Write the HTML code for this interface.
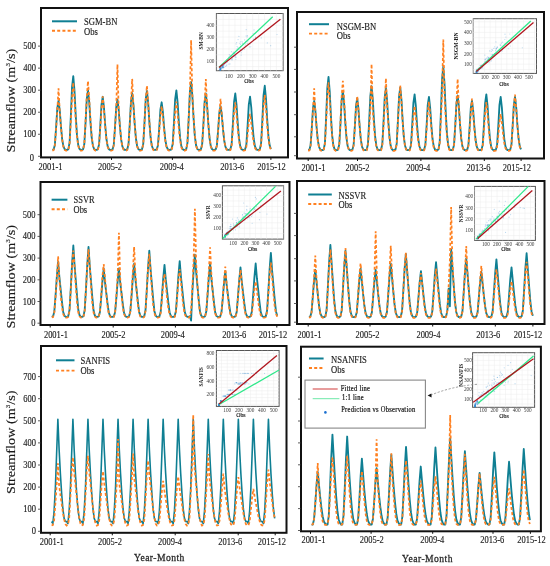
<!DOCTYPE html><html><head><meta charset="utf-8"><style>html,body{margin:0;padding:0;background:#fff;}svg{display:block;will-change:transform;}</style></head><body>
<svg width="550" height="566" viewBox="0 0 550 566" font-family='"Liberation Serif", serif'>
<rect width="550" height="566" fill="#fff"/>
<defs><clipPath id="c0"><rect x="42" y="9" width="245" height="147.4"/></clipPath></defs>
<g clip-path="url(#c0)">
<polyline points="52.4,149.91 53.63,149.42 54.86,144.99 56.08,127.79 57.31,108.13 58.54,100.76 59.77,110.59 60.99,126.81 62.22,139.59 63.45,146.47 64.68,149.17 65.9,149.91 67.13,149.91 68.36,149.17 69.59,142.53 70.81,116.68 72.04,87.15 73.27,76.07 74.5,90.84 75.72,115.21 76.95,134.4 78.18,144.74 79.41,148.8 80.63,149.91 81.86,149.91 83.09,149.31 84.32,143.94 85.54,123.03 86.77,99.14 88,90.18 89.23,102.13 90.45,121.84 91.68,137.37 92.91,145.73 94.14,149.01 95.36,149.91 96.59,149.91 97.82,149.38 99.05,144.6 100.27,126.01 101.5,104.76 102.73,96.79 103.96,107.42 105.18,124.94 106.41,138.75 107.64,146.19 108.87,149.11 110.09,149.91 111.32,149.91 112.55,149.41 113.78,144.88 115,127.3 116.23,107.19 117.46,99.66 118.69,109.71 119.91,126.29 121.14,139.36 122.37,146.39 123.6,149.15 124.82,149.91 126.05,149.91 127.28,149.34 128.51,144.24 129.73,124.42 130.96,101.76 132.19,93.27 133.42,104.59 134.64,123.29 135.87,138.01 137.1,145.94 138.33,149.06 139.55,149.91 140.78,149.91 142.01,149.32 143.24,144 144.46,123.33 145.69,99.7 146.92,90.84 148.15,102.65 149.37,122.15 150.6,137.5 151.83,145.77 153.06,149.02 154.28,149.91 155.51,149.91 156.74,149.43 157.97,145.15 159.19,128.49 160.42,109.44 161.65,102.3 162.88,111.82 164.11,127.53 165.33,139.91 166.56,146.58 167.79,149.19 169.02,149.91 170.24,149.91 171.47,149.31 172.7,143.96 173.93,123.13 175.15,99.33 176.38,90.4 177.61,102.3 178.84,121.94 180.06,137.41 181.29,145.74 182.52,149.02 183.75,149.91 184.97,149.91 186.2,149.23 187.43,143.12 188.66,119.36 189.88,92.21 191.11,82.03 192.34,95.6 193.57,118 194.79,135.65 196.02,145.16 197.25,148.89 198.48,149.91 199.7,149.91 200.93,149.34 202.16,144.27 203.39,124.52 204.61,101.95 205.84,93.49 207.07,104.77 208.3,123.39 209.52,138.06 210.75,145.96 211.98,149.06 213.21,149.91 214.43,149.91 215.66,149.47 216.89,145.54 218.12,130.27 219.34,112.82 220.57,106.27 221.8,115 223.03,129.4 224.25,140.74 225.48,146.85 226.71,149.25 227.94,149.91 229.16,149.91 230.39,149.34 231.62,144.27 232.85,124.52 234.07,101.95 235.3,93.49 236.53,104.77 237.76,123.39 238.98,138.06 240.21,145.96 241.44,149.06 242.67,149.91 243.89,149.91 245.12,149.38 246.35,144.57 247.58,125.91 248.8,104.57 250.03,96.57 251.26,107.24 252.49,124.84 253.71,138.71 254.94,146.17 256.17,149.11 257.4,149.91 258.62,149.91 259.85,149.27 261.08,143.49 262.31,121.05 263.53,95.39 264.76,85.77 265.99,98.6 267.22,119.76 268.44,136.44 269.67,145.42 270.9,148.95" fill="none" stroke="#0f7f93" stroke-width="1.85" stroke-linejoin="round"/>
<polyline points="52.4,150.57 53.63,150.06 54.86,145.43 56.08,128.98 57.31,110.48 58.54,88.42 59.77,112.02 60.99,127.44 62.22,139.78 63.45,146.97 64.68,149.8 65.9,150.57 67.13,150.57 68.36,149.89 69.59,143.76 70.81,121.97 72.04,97.45 73.27,82.47 74.5,99.49 75.72,119.92 76.95,136.27 78.18,145.8 79.41,149.55 80.63,150.57 81.86,150.57 83.09,149.88 84.32,143.63 85.54,121.41 86.77,96.42 88,81.14 89.23,98.5 90.45,119.33 91.68,135.99 92.91,145.71 94.14,149.53 95.36,150.57 96.59,150.57 97.82,150.03 99.05,145.15 100.27,127.8 101.5,108.28 102.73,96.35 103.96,109.91 105.18,126.17 106.41,139.18 107.64,146.77 108.87,149.76 110.09,150.57 111.32,150.57 112.55,150.03 113.78,145.17 115,127.91 116.23,108.49 117.46,64.39 118.69,110.1 119.91,126.29 121.14,139.24 122.37,146.79 123.6,149.76 124.82,150.57 126.05,150.57 127.28,149.97 128.51,144.59 129.73,125.45 130.96,103.91 132.19,78.72 133.42,105.71 134.64,123.65 135.87,138.01 137.1,146.38 138.33,149.67 139.55,150.57 140.78,150.57 142.01,149.92 143.24,144.09 144.46,123.35 145.69,100.03 146.92,85.77 148.15,101.97 149.37,121.41 150.6,136.96 151.83,146.03 153.06,149.6 154.28,150.57 155.51,150.57 156.74,150.12 157.97,146.12 159.19,131.87 160.42,115.84 161.65,106.05 162.88,117.18 164.11,130.54 165.33,141.22 166.56,147.45 167.79,149.9 169.02,150.57 170.24,150.57 171.47,150.08 172.7,145.68 173.93,130.02 175.15,112.41 176.38,101.64 177.61,113.87 178.84,128.55 180.06,140.29 181.29,147.14 182.52,149.84 183.75,150.57 184.97,150.57 186.2,149.83 187.43,143.14 188.66,119.37 189.88,92.64 191.11,40.15 192.34,94.86 193.57,117.15 194.79,134.97 196.02,145.37 197.25,149.46 198.48,150.57 199.7,150.57 200.93,149.97 202.16,144.57 203.39,125.35 204.61,103.74 205.84,79.16 207.07,105.54 208.3,123.55 209.52,137.96 210.75,146.37 211.98,149.67 213.21,150.57 214.43,150.57 215.66,150.09 216.89,145.78 218.12,130.46 219.34,113.23 220.57,98.78 221.8,114.67 223.03,129.03 224.25,140.52 225.48,147.22 226.71,149.85 227.94,150.57 229.16,150.57 230.39,150.09 231.62,145.74 232.85,130.3 234.07,112.92 235.3,102.3 236.53,114.37 237.76,128.85 238.98,140.43 240.21,147.19 241.44,149.85 242.67,150.57 243.89,150.57 245.12,150.2 246.35,146.91 247.58,135.2 248.8,122.03 250.03,113.98 251.26,123.13 252.49,134.11 253.71,142.89 254.94,148.01 256.17,150.02 257.4,150.57 258.62,150.57 259.85,150.01 261.08,144.99 262.31,127.15 263.53,107.08 264.76,94.81 265.99,108.75 267.22,125.48 268.44,138.86 269.67,146.67 270.9,149.73" fill="none" stroke="#ff8020" stroke-width="1.75" stroke-dasharray="3 2.2"/>
</g>
<rect x="41" y="8" width="247" height="149.4" fill="none" stroke="#111" stroke-width="2"/>
<line x1="38" y1="156.3" x2="41" y2="156.3" stroke="#333" stroke-width="0.8"/>
<text transform="translate(33.9 160.6) scale(1 1.13)" font-size="8.5" text-anchor="end" fill="#1a1a1a" stroke="#1a1a1a" stroke-width="0.12">0</text>
<line x1="38" y1="134.26" x2="41" y2="134.26" stroke="#333" stroke-width="0.8"/>
<text transform="translate(36 137.26) scale(1 1.13)" font-size="8.5" text-anchor="end" fill="#1a1a1a" stroke="#1a1a1a" stroke-width="0.12">100</text>
<line x1="38" y1="112.22" x2="41" y2="112.22" stroke="#333" stroke-width="0.8"/>
<text transform="translate(36 115.22) scale(1 1.13)" font-size="8.5" text-anchor="end" fill="#1a1a1a" stroke="#1a1a1a" stroke-width="0.12">200</text>
<line x1="38" y1="90.18" x2="41" y2="90.18" stroke="#333" stroke-width="0.8"/>
<text transform="translate(36 93.18) scale(1 1.13)" font-size="8.5" text-anchor="end" fill="#1a1a1a" stroke="#1a1a1a" stroke-width="0.12">300</text>
<line x1="38" y1="68.14" x2="41" y2="68.14" stroke="#333" stroke-width="0.8"/>
<text transform="translate(36 71.14) scale(1 1.13)" font-size="8.5" text-anchor="end" fill="#1a1a1a" stroke="#1a1a1a" stroke-width="0.12">400</text>
<line x1="38" y1="46.1" x2="41" y2="46.1" stroke="#333" stroke-width="0.8"/>
<text transform="translate(36 49.1) scale(1 1.13)" font-size="8.5" text-anchor="end" fill="#1a1a1a" stroke="#1a1a1a" stroke-width="0.12">500</text>
<line x1="50.5" y1="157.4" x2="50.5" y2="159.9" stroke="#111" stroke-width="1"/>
<text transform="translate(50.5 169.8) scale(1 1.13)" font-size="8.5" text-anchor="middle" fill="#1a1a1a" stroke="#1a1a1a" stroke-width="0.12">2001-1</text>
<line x1="111.5" y1="157.4" x2="111.5" y2="159.9" stroke="#111" stroke-width="1"/>
<text transform="translate(110 169.8) scale(1 1.13)" font-size="8.5" text-anchor="middle" fill="#1a1a1a" stroke="#1a1a1a" stroke-width="0.12">2005-2</text>
<line x1="172.4" y1="157.4" x2="172.4" y2="159.9" stroke="#111" stroke-width="1"/>
<text transform="translate(171.7 169.8) scale(1 1.13)" font-size="8.5" text-anchor="middle" fill="#1a1a1a" stroke="#1a1a1a" stroke-width="0.12">2009-4</text>
<line x1="234" y1="157.4" x2="234" y2="159.9" stroke="#111" stroke-width="1"/>
<text transform="translate(232.3 169.8) scale(1 1.13)" font-size="8.5" text-anchor="middle" fill="#1a1a1a" stroke="#1a1a1a" stroke-width="0.12">2013-6</text>
<line x1="270.9" y1="157.4" x2="270.9" y2="159.9" stroke="#111" stroke-width="1"/>
<text transform="translate(271.5 169.8) scale(1 1.13)" font-size="8.5" text-anchor="middle" fill="#1a1a1a" stroke="#1a1a1a" stroke-width="0.12">2015-12</text>
<line x1="52" y1="21.3" x2="77" y2="21.3" stroke="#0f7f93" stroke-width="2"/>
<line x1="52" y1="30.8" x2="77" y2="30.8" stroke="#ff8020" stroke-width="1.9" stroke-dasharray="3 2.2"/>
<text transform="translate(84 24.9) scale(1 1.13)" font-size="8.6" fill="#1a1a1a" stroke="#1a1a1a" stroke-width="0.12">SGM-BN</text>
<text transform="translate(84 34.9) scale(1 1.13)" font-size="8.6" fill="#1a1a1a" stroke="#1a1a1a" stroke-width="0.12">Obs</text>
<rect x="216.4" y="13.5" width="66.7" height="57.2" fill="#fff" stroke="#555" stroke-width="1"/>
<path d="M217.15 13.5V70.7M223.08 13.5V70.7M216.4 66.6H283.1M229 13.5V70.7M216.4 60.7H283.1M234.93 13.5V70.7M216.4 54.8H283.1M240.85 13.5V70.7M216.4 48.9H283.1M246.78 13.5V70.7M216.4 43H283.1M252.7 13.5V70.7M216.4 37.1H283.1M258.62 13.5V70.7M216.4 31.2H283.1M264.55 13.5V70.7M216.4 25.3H283.1M270.48 13.5V70.7M216.4 19.4H283.1M276.4 13.5V70.7M282.32 13.5V70.7" stroke="#ececec" stroke-width="0.5" fill="none"/>
<defs><clipPath id="i0"><rect x="216.4" y="13.5" width="66.7" height="57.2"/></clipPath></defs>
<g clip-path="url(#i0)" fill="#3a8fd0" fill-opacity="0.33">
<circle cx="220.25" cy="68.37" r="0.6"/>
<circle cx="220.4" cy="69.15" r="0.6"/>
<circle cx="223.33" cy="67.11" r="0.6"/>
<circle cx="232.69" cy="54.84" r="0.6"/>
<circle cx="240.4" cy="44.52" r="0.6"/>
<circle cx="255.7" cy="37.41" r="0.6"/>
<circle cx="237.09" cy="46.5" r="0.6"/>
<circle cx="235.85" cy="59.23" r="0.6"/>
<circle cx="226.19" cy="65.67" r="0.6"/>
<circle cx="222.06" cy="67.64" r="0.6"/>
<circle cx="220.67" cy="68.48" r="0.6"/>
<circle cx="220.36" cy="68.76" r="0.6"/>
<circle cx="220.13" cy="69.27" r="0.6"/>
<circle cx="220.56" cy="68.3" r="0.6"/>
<circle cx="223.35" cy="67.24" r="0.6"/>
<circle cx="233.72" cy="53.43" r="0.6"/>
<circle cx="246.15" cy="35.94" r="0.6"/>
<circle cx="254.04" cy="29.93" r="0.6"/>
<circle cx="250.01" cy="43.94" r="0.6"/>
<circle cx="235.64" cy="55.38" r="0.6"/>
<circle cx="227.61" cy="60.63" r="0.6"/>
<circle cx="222.76" cy="67.9" r="0.6"/>
<circle cx="220.67" cy="68.78" r="0.6"/>
<circle cx="220.33" cy="68.7" r="0.6"/>
<circle cx="220.32" cy="69.44" r="0.6"/>
<circle cx="220.7" cy="68.57" r="0.6"/>
<circle cx="223.96" cy="67.13" r="0.6"/>
<circle cx="236.13" cy="57.15" r="0.6"/>
<circle cx="244.65" cy="39.92" r="0.6"/>
<circle cx="261.22" cy="37.92" r="0.6"/>
<circle cx="247.31" cy="40.79" r="0.6"/>
<circle cx="235.35" cy="57.09" r="0.6"/>
<circle cx="228.88" cy="64.06" r="0.6"/>
<circle cx="222.77" cy="66.08" r="0.6"/>
<circle cx="220.85" cy="68.05" r="0.6"/>
<circle cx="220.2" cy="69.27" r="0.6"/>
<circle cx="220.16" cy="68.1" r="0.6"/>
<circle cx="220.54" cy="69.32" r="0.6"/>
<circle cx="222.9" cy="66.4" r="0.6"/>
<circle cx="233.18" cy="56.59" r="0.6"/>
<circle cx="237.58" cy="50.02" r="0.6"/>
<circle cx="250.74" cy="46.83" r="0.6"/>
<circle cx="244.34" cy="47.23" r="0.6"/>
<circle cx="234.44" cy="55.81" r="0.6"/>
<circle cx="227.23" cy="62.2" r="0.6"/>
<circle cx="222.31" cy="67.1" r="0.6"/>
<circle cx="220.57" cy="68.23" r="0.6"/>
<circle cx="220.13" cy="68.42" r="0.6"/>
<circle cx="220.12" cy="68.35" r="0.6"/>
<circle cx="220.77" cy="67.94" r="0.6"/>
<circle cx="222.74" cy="65.63" r="0.6"/>
<circle cx="234.55" cy="53.78" r="0.6"/>
<circle cx="242.06" cy="41.51" r="0.6"/>
<circle cx="270.67" cy="45.68" r="0.6"/>
<circle cx="244.28" cy="49.16" r="0.6"/>
<circle cx="232.95" cy="54.29" r="0.6"/>
<circle cx="226.91" cy="64.94" r="0.6"/>
<circle cx="222.19" cy="67.14" r="0.6"/>
<circle cx="220.59" cy="67.44" r="0.6"/>
<circle cx="220.28" cy="69.74" r="0.6"/>
<circle cx="220.25" cy="70.5" r="0.6"/>
<circle cx="220.56" cy="68.88" r="0.6"/>
<circle cx="223.91" cy="65.64" r="0.6"/>
<circle cx="234.78" cy="53.37" r="0.6"/>
<circle cx="245.51" cy="41.65" r="0.6"/>
<circle cx="267.3" cy="42.9" r="0.6"/>
<circle cx="245.24" cy="45.75" r="0.6"/>
<circle cx="232.18" cy="54.7" r="0.6"/>
<circle cx="227.34" cy="60.18" r="0.6"/>
<circle cx="222.96" cy="68.01" r="0.6"/>
<circle cx="220.73" cy="69.24" r="0.6"/>
<circle cx="220.23" cy="69.96" r="0.6"/>
<circle cx="220.31" cy="68.24" r="0.6"/>
<circle cx="220.57" cy="69.18" r="0.6"/>
<circle cx="224.05" cy="64.42" r="0.6"/>
<circle cx="235.21" cy="55.95" r="0.6"/>
<circle cx="247.11" cy="36.91" r="0.6"/>
<circle cx="253.85" cy="38.94" r="0.6"/>
<circle cx="247.3" cy="43.32" r="0.6"/>
<circle cx="236.86" cy="49.9" r="0.6"/>
<circle cx="226.93" cy="61.73" r="0.6"/>
<circle cx="222.8" cy="67.62" r="0.6"/>
<circle cx="220.54" cy="67.77" r="0.6"/>
<circle cx="220.2" cy="69.35" r="0.6"/>
<circle cx="220.22" cy="68.67" r="0.6"/>
<circle cx="220.53" cy="69.71" r="0.6"/>
<circle cx="222.89" cy="65.43" r="0.6"/>
<circle cx="230.02" cy="55.38" r="0.6"/>
<circle cx="241.17" cy="55.07" r="0.6"/>
<circle cx="245.26" cy="44.04" r="0.6"/>
<circle cx="238.05" cy="47.71" r="0.6"/>
<circle cx="233.38" cy="56.42" r="0.6"/>
<circle cx="225.7" cy="63.33" r="0.6"/>
<circle cx="221.79" cy="66.97" r="0.6"/>
<circle cx="220.55" cy="69" r="0.6"/>
<circle cx="220.19" cy="69.52" r="0.6"/>
<circle cx="220.22" cy="69.9" r="0.6"/>
<circle cx="220.47" cy="68.63" r="0.6"/>
<circle cx="222.94" cy="67.39" r="0.6"/>
<circle cx="230.89" cy="55.92" r="0.6"/>
<circle cx="240.43" cy="46.3" r="0.6"/>
<circle cx="247.97" cy="40.93" r="0.6"/>
<circle cx="238.07" cy="39.61" r="0.6"/>
<circle cx="231.43" cy="51.7" r="0.6"/>
<circle cx="225.82" cy="62.81" r="0.6"/>
<circle cx="222.24" cy="65.84" r="0.6"/>
<circle cx="220.68" cy="69.61" r="0.6"/>
<circle cx="220.32" cy="69.33" r="0.6"/>
<circle cx="220.18" cy="69.65" r="0.6"/>
<circle cx="220.51" cy="69.33" r="0.6"/>
<circle cx="223.3" cy="65.74" r="0.6"/>
<circle cx="237.29" cy="48.77" r="0.6"/>
<circle cx="246.2" cy="29.64" r="0.6"/>
<circle cx="277.02" cy="34.49" r="0.6"/>
<circle cx="253.6" cy="39.52" r="0.6"/>
<circle cx="241.35" cy="52.74" r="0.6"/>
<circle cx="229.95" cy="63.92" r="0.6"/>
<circle cx="222.91" cy="65.98" r="0.6"/>
<circle cx="220.72" cy="67.9" r="0.6"/>
<circle cx="220.22" cy="69.86" r="0.6"/>
<circle cx="220.16" cy="71.22" r="0.6"/>
<circle cx="220.54" cy="68.35" r="0.6"/>
<circle cx="223.62" cy="67.44" r="0.6"/>
<circle cx="232.37" cy="58.63" r="0.6"/>
<circle cx="242.9" cy="43.23" r="0.6"/>
<circle cx="255.47" cy="37.09" r="0.6"/>
<circle cx="242.44" cy="43.12" r="0.6"/>
<circle cx="233.54" cy="56.01" r="0.6"/>
<circle cx="226.88" cy="61.4" r="0.6"/>
<circle cx="222.57" cy="67.19" r="0.6"/>
<circle cx="220.68" cy="70.05" r="0.6"/>
<circle cx="220.34" cy="68.56" r="0.6"/>
<circle cx="220.19" cy="69.59" r="0.6"/>
<circle cx="220.6" cy="69.14" r="0.6"/>
<circle cx="222.69" cy="66.6" r="0.6"/>
<circle cx="232.04" cy="59.9" r="0.6"/>
<circle cx="240.3" cy="49.29" r="0.6"/>
<circle cx="249.3" cy="46.93" r="0.6"/>
<circle cx="238.78" cy="49.43" r="0.6"/>
<circle cx="231.73" cy="59.51" r="0.6"/>
<circle cx="225.65" cy="66.52" r="0.6"/>
<circle cx="221.97" cy="67.12" r="0.6"/>
<circle cx="220.73" cy="68.03" r="0.6"/>
<circle cx="220.32" cy="69.31" r="0.6"/>
<circle cx="220.2" cy="70.12" r="0.6"/>
<circle cx="220.55" cy="69.66" r="0.6"/>
<circle cx="222.85" cy="65.58" r="0.6"/>
<circle cx="231.21" cy="56.44" r="0.6"/>
<circle cx="240.78" cy="46.71" r="0.6"/>
<circle cx="247.46" cy="35.66" r="0.6"/>
<circle cx="241.9" cy="50.62" r="0.6"/>
<circle cx="229.34" cy="56.77" r="0.6"/>
<circle cx="226.13" cy="62" r="0.6"/>
<circle cx="222.04" cy="65.68" r="0.6"/>
<circle cx="220.62" cy="69.76" r="0.6"/>
<circle cx="220.21" cy="70.87" r="0.6"/>
<circle cx="220.28" cy="68.13" r="0.6"/>
<circle cx="220.49" cy="68.51" r="0.6"/>
<circle cx="222.22" cy="66.44" r="0.6"/>
<circle cx="229.3" cy="54.51" r="0.6"/>
<circle cx="236.64" cy="42.51" r="0.6"/>
<circle cx="238.89" cy="36.45" r="0.6"/>
<circle cx="236.07" cy="43.89" r="0.6"/>
<circle cx="228.6" cy="57.34" r="0.6"/>
<circle cx="224.53" cy="64.06" r="0.6"/>
<circle cx="221.52" cy="68.33" r="0.6"/>
<circle cx="220.51" cy="67.98" r="0.6"/>
<circle cx="220.23" cy="68.14" r="0.6"/>
<circle cx="220.19" cy="69" r="0.6"/>
<circle cx="220.59" cy="69" r="0.6"/>
<circle cx="223.53" cy="65.72" r="0.6"/>
<circle cx="233.27" cy="52.04" r="0.6"/>
<circle cx="240.32" cy="41.84" r="0.6"/>
<circle cx="253.11" cy="33.28" r="0.6"/>
<circle cx="239.77" cy="43.24" r="0.6"/>
<circle cx="233.16" cy="53.11" r="0.6"/>
<circle cx="226.75" cy="59.86" r="0.6"/>
<circle cx="221.96" cy="66.8" r="0.6"/>
<circle cx="220.82" cy="68.69" r="0.6"/>
<circle cx="220.22" cy="69.36" r="0.6"/>
</g>
<line x1="219.1" y1="67.1" x2="272.7" y2="16.7" stroke="#2ee88a" stroke-width="1.3"/>
<line x1="219" y1="67.6" x2="280.4" y2="19.3" stroke="#b0161e" stroke-width="1.3"/>
<text transform="translate(214.5 62.6) scale(1 1.13)" font-size="5.3" text-anchor="end" fill="#3a3a3a">100</text>
<text transform="translate(214.5 50.8) scale(1 1.13)" font-size="5.3" text-anchor="end" fill="#3a3a3a">200</text>
<text transform="translate(214.5 39) scale(1 1.13)" font-size="5.3" text-anchor="end" fill="#3a3a3a">300</text>
<text transform="translate(214.5 27.2) scale(1 1.13)" font-size="5.3" text-anchor="end" fill="#3a3a3a">400</text>
<text transform="translate(229 78.1) scale(1 1.13)" font-size="5.3" text-anchor="middle" fill="#3a3a3a">100</text>
<text transform="translate(240.85 78.1) scale(1 1.13)" font-size="5.3" text-anchor="middle" fill="#3a3a3a">200</text>
<text transform="translate(252.7 78.1) scale(1 1.13)" font-size="5.3" text-anchor="middle" fill="#3a3a3a">300</text>
<text transform="translate(264.55 78.1) scale(1 1.13)" font-size="5.3" text-anchor="middle" fill="#3a3a3a">400</text>
<text transform="translate(276.4 78.1) scale(1 1.13)" font-size="5.3" text-anchor="middle" fill="#3a3a3a">500</text>
<text transform="translate(249 83.3) scale(1 1.13)" font-size="5.8" text-anchor="middle" fill="#1a1a1a" stroke="#1a1a1a" stroke-width="0.15">Obs</text>
<text transform="translate(202.7 40.9) rotate(-90)" font-size="5.4" font-weight="bold" text-anchor="middle" fill="#222">SM-BN</text>
<defs><clipPath id="c1"><rect x="298" y="13" width="245" height="144.5"/></clipPath></defs>
<g clip-path="url(#c1)">
<polyline points="308.2,150.16 309.4,149.67 310.59,145.23 311.79,127.98 312.98,108.27 314.18,100.88 315.37,110.73 316.57,127 317.76,139.81 318.96,146.71 320.16,149.42 321.35,150.16 322.55,150.16 323.74,149.43 324.94,142.84 326.13,117.19 327.33,87.89 328.52,76.9 329.72,91.55 330.91,115.73 332.11,134.78 333.31,145.03 334.5,149.06 335.7,150.16 336.89,150.16 338.09,149.57 339.28,144.26 340.48,123.59 341.67,99.97 342.87,91.11 344.07,102.92 345.26,122.41 346.46,137.76 347.65,146.03 348.85,149.28 350.04,150.16 351.24,150.16 352.43,149.64 353.63,144.97 354.82,126.79 356.02,106.01 357.22,98.21 358.41,108.6 359.61,125.75 360.8,139.25 362,146.53 363.19,149.38 364.39,150.16 365.58,150.16 366.78,149.52 367.98,143.77 369.17,121.39 370.37,95.82 371.56,86.23 372.76,99.01 373.95,120.11 375.15,136.74 376.34,145.69 377.54,149.2 378.73,150.16 379.93,150.16 381.13,149.54 382.32,143.95 383.52,122.19 384.71,97.33 385.91,88 387.1,100.43 388.3,120.95 389.49,137.11 390.69,145.81 391.89,149.23 393.08,150.16 394.28,150.16 395.47,149.53 396.67,143.88 397.86,121.89 399.06,96.76 400.25,87.34 401.45,99.9 402.64,120.63 403.84,136.97 405.04,145.76 406.23,149.22 407.43,150.16 408.62,150.16 409.82,149.6 411.01,144.59 412.21,125.09 413.4,102.8 414.6,94.44 415.8,105.58 416.99,123.97 418.19,138.46 419.38,146.26 420.58,149.33 421.77,150.16 422.97,150.16 424.16,149.63 425.36,144.83 426.56,126.19 427.75,104.87 428.95,96.88 430.14,107.54 431.34,125.12 432.53,138.97 433.73,146.43 434.92,149.36 436.12,150.16 437.31,150.16 438.51,149.33 439.71,141.79 440.9,112.5 442.1,79.02 443.29,66.47 444.49,83.21 445.68,110.83 446.88,132.59 448.07,144.3 449.27,148.91 450.47,150.16 451.66,150.16 452.86,149.62 454.05,144.7 455.25,125.59 456.44,103.74 457.64,95.55 458.83,106.47 460.03,124.49 461.22,138.69 462.42,146.34 463.62,149.34 464.81,150.16 466.01,150.16 467.2,149.67 468.4,145.21 469.59,127.88 470.79,108.08 471.98,100.66 473.18,110.56 474.38,126.89 475.57,139.77 476.77,146.7 477.96,149.42 479.16,150.16 480.35,150.16 481.55,149.6 482.74,144.59 483.94,125.09 485.13,102.8 486.33,94.44 487.53,105.58 488.72,123.97 489.92,138.46 491.11,146.26 492.31,149.33 493.5,150.16 494.7,150.16 495.89,149.63 497.09,144.83 498.29,126.19 499.48,104.87 500.68,96.88 501.87,107.54 503.07,125.12 504.26,138.97 505.46,146.43 506.65,149.36 507.85,150.16 509.04,150.16 510.24,149.63 511.44,144.83 512.63,126.19 513.83,104.87 515.02,96.88 516.22,107.54 517.41,125.12 518.61,138.97 519.8,146.43 521,149.36" fill="none" stroke="#0f7f93" stroke-width="1.85" stroke-linejoin="round"/>
<polyline points="308.2,150.83 309.4,150.31 310.59,145.65 311.79,129.08 312.98,110.45 314.18,88.22 315.37,112 316.57,127.53 317.76,139.96 318.96,147.2 320.16,150.05 321.35,150.83 322.55,150.83 323.74,150.14 324.94,143.97 326.13,122.02 327.33,97.32 328.52,82.23 329.72,99.38 330.91,119.96 332.11,136.42 333.31,146.03 334.5,149.8 335.7,150.83 336.89,150.83 338.09,150.13 339.28,143.83 340.48,121.46 341.67,96.28 342.87,80.9 344.07,98.38 345.26,119.36 346.46,136.14 347.65,145.93 348.85,149.78 350.04,150.83 351.24,150.83 352.43,150.28 353.63,145.37 354.82,127.89 356.02,108.23 357.22,96.22 358.41,109.87 359.61,126.25 360.8,139.36 362,147.01 363.19,150.01 364.39,150.83 365.58,150.83 366.78,150.28 367.98,145.39 369.17,128 370.37,108.44 371.56,64.03 372.76,110.07 373.95,126.37 375.15,139.42 376.34,147.02 377.54,150.01 378.73,150.83 379.93,150.83 381.13,150.23 382.32,144.8 383.52,125.52 384.71,103.83 385.91,78.46 387.1,105.64 388.3,123.72 389.49,138.18 390.69,146.61 391.89,149.92 393.08,150.83 394.28,150.83 395.47,150.18 396.67,144.3 397.86,123.42 399.06,99.92 400.25,85.56 401.45,101.88 402.64,121.46 403.84,137.12 405.04,146.26 406.23,149.85 407.43,150.83 408.62,150.83 409.82,150.38 411.01,146.34 412.21,131.99 413.4,115.85 414.6,105.98 415.8,117.19 416.99,130.65 418.19,141.41 419.38,147.69 420.58,150.16 421.77,150.83 422.97,150.83 424.16,150.34 425.36,145.9 426.56,130.13 427.75,112.39 428.95,101.54 430.14,113.86 431.34,128.65 432.53,140.48 433.73,147.38 434.92,150.09 436.12,150.83 437.31,150.83 438.51,150.08 439.71,143.35 440.9,119.41 442.1,92.47 443.29,39.61 444.49,94.72 445.68,117.16 446.88,135.12 448.07,145.59 449.27,149.71 450.47,150.83 451.66,150.83 452.86,150.22 454.05,144.78 455.25,125.43 456.44,103.66 457.64,78.9 458.83,105.47 460.03,123.62 461.22,138.13 462.42,146.59 463.62,149.92 464.81,150.83 466.01,150.83 467.2,150.35 468.4,146.01 469.59,130.58 470.79,113.22 471.98,98.66 473.18,114.66 474.38,129.13 475.57,140.7 476.77,147.45 477.96,150.1 479.16,150.83 480.35,150.83 481.55,150.34 482.74,145.97 483.94,130.41 485.13,112.91 486.33,102.21 487.53,114.36 488.72,128.95 489.92,140.62 491.11,147.42 492.31,150.1 493.5,150.83 494.7,150.83 495.89,150.46 497.09,147.14 498.29,135.35 499.48,122.08 500.68,113.98 501.87,123.19 503.07,134.24 504.26,143.09 505.46,148.25 506.65,150.28 507.85,150.83 509.04,150.83 510.24,150.27 511.44,145.21 512.63,127.24 513.83,107.02 515.02,94.66 516.22,108.7 517.41,125.55 518.61,139.03 519.8,146.9 521,149.99" fill="none" stroke="#ff8020" stroke-width="1.75" stroke-dasharray="3 2.2"/>
</g>
<rect x="297" y="12" width="247" height="146.5" fill="none" stroke="#111" stroke-width="2"/>
<line x1="294" y1="155.7" x2="297" y2="155.7" stroke="#333" stroke-width="0.8"/>
<line x1="294" y1="136.8" x2="297" y2="136.8" stroke="#333" stroke-width="0.8"/>
<line x1="294" y1="114.7" x2="297" y2="114.7" stroke="#333" stroke-width="0.8"/>
<line x1="294" y1="92" x2="297" y2="92" stroke="#333" stroke-width="0.8"/>
<line x1="294" y1="69.4" x2="297" y2="69.4" stroke="#333" stroke-width="0.8"/>
<line x1="294" y1="47.2" x2="297" y2="47.2" stroke="#333" stroke-width="0.8"/>
<line x1="308.2" y1="158.5" x2="308.2" y2="161" stroke="#111" stroke-width="1"/>
<text transform="translate(313.5 171.3) scale(1 1.13)" font-size="8.5" text-anchor="middle" fill="#1a1a1a" stroke="#1a1a1a" stroke-width="0.12">2001-1</text>
<line x1="357.5" y1="158.5" x2="357.5" y2="161" stroke="#111" stroke-width="1"/>
<text transform="translate(357.5 171.3) scale(1 1.13)" font-size="8.5" text-anchor="middle" fill="#1a1a1a" stroke="#1a1a1a" stroke-width="0.12">2005-2</text>
<line x1="420.9" y1="158.5" x2="420.9" y2="161" stroke="#111" stroke-width="1"/>
<text transform="translate(418.2 171.3) scale(1 1.13)" font-size="8.5" text-anchor="middle" fill="#1a1a1a" stroke="#1a1a1a" stroke-width="0.12">2009-4</text>
<line x1="484.3" y1="158.5" x2="484.3" y2="161" stroke="#111" stroke-width="1"/>
<text transform="translate(478.5 171.3) scale(1 1.13)" font-size="8.5" text-anchor="middle" fill="#1a1a1a" stroke="#1a1a1a" stroke-width="0.12">2013-6</text>
<line x1="521.1" y1="158.5" x2="521.1" y2="161" stroke="#111" stroke-width="1"/>
<text transform="translate(516.8 171.3) scale(1 1.13)" font-size="8.5" text-anchor="middle" fill="#1a1a1a" stroke="#1a1a1a" stroke-width="0.12">2015-12</text>
<line x1="309" y1="24.2" x2="329" y2="24.2" stroke="#0f7f93" stroke-width="2"/>
<line x1="309" y1="33.6" x2="329" y2="33.6" stroke="#ff8020" stroke-width="1.9" stroke-dasharray="3 2.2"/>
<text transform="translate(336.7 30) scale(1 1.13)" font-size="8.6" fill="#1a1a1a" stroke="#1a1a1a" stroke-width="0.12">NSGM-BN</text>
<text transform="translate(336.7 39.4) scale(1 1.13)" font-size="8.6" fill="#1a1a1a" stroke="#1a1a1a" stroke-width="0.12">Obs</text>
<rect x="473.3" y="18.7" width="63.2" height="54.7" fill="#fff" stroke="#555" stroke-width="1"/>
<path d="M473.5 18.7V73.4M479.05 18.7V73.4M473.3 69.5H536.5M484.6 18.7V73.4M473.3 64.2H536.5M490.15 18.7V73.4M473.3 58.9H536.5M495.7 18.7V73.4M473.3 53.6H536.5M501.25 18.7V73.4M473.3 48.3H536.5M506.8 18.7V73.4M473.3 43H536.5M512.35 18.7V73.4M473.3 37.7H536.5M517.9 18.7V73.4M473.3 32.4H536.5M523.45 18.7V73.4M473.3 27.1H536.5M529 18.7V73.4M473.3 21.8H536.5M534.55 18.7V73.4" stroke="#ececec" stroke-width="0.5" fill="none"/>
<defs><clipPath id="i1"><rect x="473.3" y="18.7" width="63.2" height="54.7"/></clipPath></defs>
<g clip-path="url(#i1)" fill="#3a8fd0" fill-opacity="0.33">
<circle cx="476.53" cy="72" r="0.6"/>
<circle cx="476.67" cy="72.48" r="0.6"/>
<circle cx="478.85" cy="68.87" r="0.6"/>
<circle cx="490.24" cy="58.67" r="0.6"/>
<circle cx="499.61" cy="50.06" r="0.6"/>
<circle cx="510.37" cy="46.01" r="0.6"/>
<circle cx="494.67" cy="53.65" r="0.6"/>
<circle cx="488.48" cy="60.6" r="0.6"/>
<circle cx="481.44" cy="65.01" r="0.6"/>
<circle cx="478.03" cy="70.03" r="0.6"/>
<circle cx="476.64" cy="71.03" r="0.6"/>
<circle cx="476.39" cy="70.92" r="0.6"/>
<circle cx="476.49" cy="71.96" r="0.6"/>
<circle cx="476.74" cy="70.52" r="0.6"/>
<circle cx="479.88" cy="68.01" r="0.6"/>
<circle cx="492.65" cy="54.75" r="0.6"/>
<circle cx="501.35" cy="43.07" r="0.6"/>
<circle cx="510.75" cy="42.05" r="0.6"/>
<circle cx="500.66" cy="45.19" r="0.6"/>
<circle cx="491.85" cy="57.97" r="0.6"/>
<circle cx="485.1" cy="63.36" r="0.6"/>
<circle cx="478.66" cy="69.39" r="0.6"/>
<circle cx="476.98" cy="72.34" r="0.6"/>
<circle cx="476.42" cy="71.66" r="0.6"/>
<circle cx="476.44" cy="72.68" r="0.6"/>
<circle cx="476.7" cy="71.28" r="0.6"/>
<circle cx="479.8" cy="68.35" r="0.6"/>
<circle cx="490.37" cy="59.44" r="0.6"/>
<circle cx="502.72" cy="48.19" r="0.6"/>
<circle cx="515.87" cy="35.85" r="0.6"/>
<circle cx="508.38" cy="48.74" r="0.6"/>
<circle cx="491.28" cy="54.91" r="0.6"/>
<circle cx="483.82" cy="64.29" r="0.6"/>
<circle cx="478.38" cy="70.63" r="0.6"/>
<circle cx="476.94" cy="71.3" r="0.6"/>
<circle cx="476.48" cy="71.94" r="0.6"/>
<circle cx="476.31" cy="72.11" r="0.6"/>
<circle cx="476.8" cy="71.41" r="0.6"/>
<circle cx="479.34" cy="69.31" r="0.6"/>
<circle cx="488.13" cy="59.89" r="0.6"/>
<circle cx="496.05" cy="48.48" r="0.6"/>
<circle cx="500.07" cy="44.95" r="0.6"/>
<circle cx="495.47" cy="53.35" r="0.6"/>
<circle cx="489.84" cy="61.14" r="0.6"/>
<circle cx="482.07" cy="66.11" r="0.6"/>
<circle cx="478.41" cy="70.87" r="0.6"/>
<circle cx="477.12" cy="71.19" r="0.6"/>
<circle cx="476.31" cy="71.66" r="0.6"/>
<circle cx="476.35" cy="72.21" r="0.6"/>
<circle cx="476.55" cy="71.68" r="0.6"/>
<circle cx="479.43" cy="67.74" r="0.6"/>
<circle cx="488.09" cy="57.82" r="0.6"/>
<circle cx="497.5" cy="47.35" r="0.6"/>
<circle cx="522.34" cy="47.75" r="0.6"/>
<circle cx="494.68" cy="46.84" r="0.6"/>
<circle cx="487.49" cy="61.9" r="0.6"/>
<circle cx="481.94" cy="65.73" r="0.6"/>
<circle cx="478.48" cy="70.01" r="0.6"/>
<circle cx="476.86" cy="70.1" r="0.6"/>
<circle cx="476.42" cy="71.55" r="0.6"/>
<circle cx="476.31" cy="72.58" r="0.6"/>
<circle cx="476.7" cy="71.87" r="0.6"/>
<circle cx="479.22" cy="67.84" r="0.6"/>
<circle cx="488.97" cy="62.58" r="0.6"/>
<circle cx="497.1" cy="53.45" r="0.6"/>
<circle cx="509.83" cy="33.99" r="0.6"/>
<circle cx="499.5" cy="49.49" r="0.6"/>
<circle cx="488.5" cy="58.21" r="0.6"/>
<circle cx="483.42" cy="64.36" r="0.6"/>
<circle cx="478.57" cy="69.51" r="0.6"/>
<circle cx="476.93" cy="70.57" r="0.6"/>
<circle cx="476.49" cy="71.64" r="0.6"/>
<circle cx="476.46" cy="71.31" r="0.6"/>
<circle cx="476.63" cy="70.25" r="0.6"/>
<circle cx="479.98" cy="68.56" r="0.6"/>
<circle cx="489.12" cy="57.35" r="0.6"/>
<circle cx="503.28" cy="45.32" r="0.6"/>
<circle cx="505.91" cy="37.12" r="0.6"/>
<circle cx="502.44" cy="48.55" r="0.6"/>
<circle cx="492.92" cy="54.58" r="0.6"/>
<circle cx="483.94" cy="63.35" r="0.6"/>
<circle cx="478.31" cy="69.75" r="0.6"/>
<circle cx="476.95" cy="71.9" r="0.6"/>
<circle cx="476.26" cy="73.3" r="0.6"/>
<circle cx="476.37" cy="71.88" r="0.6"/>
<circle cx="476.54" cy="71.84" r="0.6"/>
<circle cx="478.71" cy="69.14" r="0.6"/>
<circle cx="485.83" cy="59.86" r="0.6"/>
<circle cx="495.94" cy="41.96" r="0.6"/>
<circle cx="502.05" cy="51.09" r="0.6"/>
<circle cx="492.63" cy="50.22" r="0.6"/>
<circle cx="484.86" cy="55.09" r="0.6"/>
<circle cx="481.13" cy="65.68" r="0.6"/>
<circle cx="477.99" cy="71.69" r="0.6"/>
<circle cx="476.84" cy="71.01" r="0.6"/>
<circle cx="476.38" cy="71.71" r="0.6"/>
<circle cx="476.32" cy="72.25" r="0.6"/>
<circle cx="476.8" cy="70.62" r="0.6"/>
<circle cx="478.74" cy="68.83" r="0.6"/>
<circle cx="487.84" cy="59.22" r="0.6"/>
<circle cx="497.25" cy="46.88" r="0.6"/>
<circle cx="496.65" cy="48.11" r="0.6"/>
<circle cx="495.69" cy="50.63" r="0.6"/>
<circle cx="485.99" cy="62.2" r="0.6"/>
<circle cx="481.5" cy="68.38" r="0.6"/>
<circle cx="478.07" cy="70.32" r="0.6"/>
<circle cx="476.83" cy="72.2" r="0.6"/>
<circle cx="476.31" cy="71.88" r="0.6"/>
<circle cx="476.26" cy="72.01" r="0.6"/>
<circle cx="476.74" cy="70.66" r="0.6"/>
<circle cx="480.49" cy="68.03" r="0.6"/>
<circle cx="491.36" cy="51.35" r="0.6"/>
<circle cx="505.01" cy="34.2" r="0.6"/>
<circle cx="536.96" cy="28.86" r="0.6"/>
<circle cx="504.83" cy="39.49" r="0.6"/>
<circle cx="495.82" cy="53.82" r="0.6"/>
<circle cx="484.59" cy="62.32" r="0.6"/>
<circle cx="478.88" cy="68.38" r="0.6"/>
<circle cx="476.95" cy="72.57" r="0.6"/>
<circle cx="476.49" cy="71.97" r="0.6"/>
<circle cx="476.46" cy="72.11" r="0.6"/>
<circle cx="476.8" cy="71.96" r="0.6"/>
<circle cx="480.34" cy="68.71" r="0.6"/>
<circle cx="491.58" cy="60.78" r="0.6"/>
<circle cx="501.99" cy="49.75" r="0.6"/>
<circle cx="507.51" cy="42.48" r="0.6"/>
<circle cx="500.49" cy="50.19" r="0.6"/>
<circle cx="490.9" cy="59.44" r="0.6"/>
<circle cx="482.81" cy="68.08" r="0.6"/>
<circle cx="478.63" cy="69.79" r="0.6"/>
<circle cx="476.98" cy="71.84" r="0.6"/>
<circle cx="476.32" cy="72.53" r="0.6"/>
<circle cx="476.47" cy="70.36" r="0.6"/>
<circle cx="476.57" cy="71.61" r="0.6"/>
<circle cx="478.75" cy="68.8" r="0.6"/>
<circle cx="484.95" cy="61.15" r="0.6"/>
<circle cx="497.27" cy="53.28" r="0.6"/>
<circle cx="505.24" cy="43.38" r="0.6"/>
<circle cx="494.81" cy="53.54" r="0.6"/>
<circle cx="488.32" cy="57.94" r="0.6"/>
<circle cx="482.24" cy="67.41" r="0.6"/>
<circle cx="478.11" cy="71.1" r="0.6"/>
<circle cx="476.78" cy="70.89" r="0.6"/>
<circle cx="476.31" cy="71.55" r="0.6"/>
<circle cx="476.41" cy="71.27" r="0.6"/>
<circle cx="476.85" cy="70.71" r="0.6"/>
<circle cx="478.9" cy="69.47" r="0.6"/>
<circle cx="486.19" cy="61.49" r="0.6"/>
<circle cx="496.17" cy="49.49" r="0.6"/>
<circle cx="502.57" cy="42.19" r="0.6"/>
<circle cx="492.67" cy="54.9" r="0.6"/>
<circle cx="486.51" cy="58.16" r="0.6"/>
<circle cx="480.75" cy="65.97" r="0.6"/>
<circle cx="478.3" cy="69.35" r="0.6"/>
<circle cx="476.78" cy="69.6" r="0.6"/>
<circle cx="476.38" cy="72.11" r="0.6"/>
<circle cx="476.36" cy="71.59" r="0.6"/>
<circle cx="476.68" cy="71.84" r="0.6"/>
<circle cx="478.61" cy="68.56" r="0.6"/>
<circle cx="485.02" cy="59.42" r="0.6"/>
<circle cx="489.72" cy="50.97" r="0.6"/>
<circle cx="493.85" cy="48.45" r="0.6"/>
<circle cx="491.87" cy="49.66" r="0.6"/>
<circle cx="485.37" cy="58.95" r="0.6"/>
<circle cx="480.1" cy="65.24" r="0.6"/>
<circle cx="477.22" cy="68.77" r="0.6"/>
<circle cx="476.72" cy="71.37" r="0.6"/>
<circle cx="476.37" cy="70.21" r="0.6"/>
<circle cx="476.35" cy="70.73" r="0.6"/>
<circle cx="476.59" cy="71.78" r="0.6"/>
<circle cx="479.56" cy="69.72" r="0.6"/>
<circle cx="487.76" cy="56.77" r="0.6"/>
<circle cx="496.4" cy="48.41" r="0.6"/>
<circle cx="501.97" cy="49.41" r="0.6"/>
<circle cx="499.31" cy="50.5" r="0.6"/>
<circle cx="489.63" cy="59.54" r="0.6"/>
<circle cx="482.72" cy="66.73" r="0.6"/>
<circle cx="478.04" cy="70.49" r="0.6"/>
<circle cx="476.65" cy="71.09" r="0.6"/>
<circle cx="476.31" cy="71.11" r="0.6"/>
</g>
<line x1="476.3" y1="70.9" x2="530.8" y2="20.9" stroke="#2ee88a" stroke-width="1.3"/>
<line x1="476.3" y1="71.5" x2="533.5" y2="22.4" stroke="#b0161e" stroke-width="1.3"/>
<text transform="translate(471.9 66.1) scale(1 1.13)" font-size="5.3" text-anchor="end" fill="#3a3a3a">100</text>
<text transform="translate(471.9 55.5) scale(1 1.13)" font-size="5.3" text-anchor="end" fill="#3a3a3a">200</text>
<text transform="translate(471.9 44.9) scale(1 1.13)" font-size="5.3" text-anchor="end" fill="#3a3a3a">300</text>
<text transform="translate(471.9 34.3) scale(1 1.13)" font-size="5.3" text-anchor="end" fill="#3a3a3a">400</text>
<text transform="translate(471.9 23.7) scale(1 1.13)" font-size="5.3" text-anchor="end" fill="#3a3a3a">500</text>
<text transform="translate(484.6 79.2) scale(1 1.13)" font-size="5.3" text-anchor="middle" fill="#3a3a3a">100</text>
<text transform="translate(495.7 79.2) scale(1 1.13)" font-size="5.3" text-anchor="middle" fill="#3a3a3a">200</text>
<text transform="translate(506.8 79.2) scale(1 1.13)" font-size="5.3" text-anchor="middle" fill="#3a3a3a">300</text>
<text transform="translate(517.9 79.2) scale(1 1.13)" font-size="5.3" text-anchor="middle" fill="#3a3a3a">400</text>
<text transform="translate(529 79.2) scale(1 1.13)" font-size="5.3" text-anchor="middle" fill="#3a3a3a">500</text>
<text transform="translate(504 86.2) scale(1 1.13)" font-size="5.8" text-anchor="middle" fill="#1a1a1a" stroke="#1a1a1a" stroke-width="0.15">Obs</text>
<text transform="translate(458.4 46) rotate(-90)" font-size="5.75" font-weight="bold" text-anchor="middle" fill="#222">NSGM-BN</text>
<defs><clipPath id="c2"><rect x="41.5" y="183" width="247" height="141"/></clipPath></defs>
<g clip-path="url(#c2)">
<polyline points="51.8,316.91 53.07,316.36 54.33,311.42 55.6,294.95 56.87,276.28 58.13,262.01 59.4,277.38 60.66,289.46 61.93,301.53 63.2,311.97 64.46,315.81 65.73,316.91 67,316.91 68.26,316.19 69.53,309.77 70.79,288.35 72.06,264.08 73.33,245.51 74.59,265.5 75.86,281.21 77.13,296.92 78.39,310.48 79.66,315.48 80.92,316.91 82.19,316.91 83.46,316.21 84.72,309.9 85.99,288.87 87.26,265.04 88.52,246.82 89.79,266.44 91.06,281.86 92.32,297.28 93.59,310.6 94.85,315.51 96.12,316.91 97.39,316.91 98.65,316.42 99.92,312.07 101.19,297.55 102.45,281.1 103.72,268.52 104.98,282.07 106.25,292.71 107.52,303.36 108.78,312.55 110.05,315.94 111.32,316.91 112.58,316.91 113.85,316.42 115.11,312.07 116.38,297.55 117.65,281.1 118.91,268.52 120.18,282.07 121.45,292.71 122.71,303.36 123.98,312.55 125.24,315.94 126.51,316.91 127.78,316.91 129.04,316.38 130.31,311.59 131.58,295.64 132.84,277.56 134.11,263.74 135.38,278.63 136.64,290.32 137.91,302.02 139.17,312.12 140.44,315.84 141.71,316.91 142.97,316.91 144.24,316.25 145.51,310.29 146.77,290.43 148.04,267.93 149.3,250.72 150.57,269.25 151.84,283.81 153.1,298.38 154.37,310.95 155.64,315.58 156.9,316.91 158.17,316.91 159.43,316.39 160.7,311.7 161.97,296.07 163.23,278.37 164.5,264.83 165.77,279.41 167.03,290.87 168.3,302.32 169.57,312.22 170.83,315.87 172.1,316.91 173.36,316.91 174.63,316.35 175.9,311.33 177.16,294.6 178.43,275.64 179.7,261.14 180.96,276.75 182.23,289.02 183.49,301.29 184.76,311.89 186.03,315.79 187.29,316.91 188.56,316.91 189.83,316.28 191.09,320.6 192.36,292 193.62,270.82 194.89,254.63 196.16,272.07 197.42,285.77 198.69,299.47 199.96,311.3 201.22,315.66 202.49,316.91 203.76,316.91 205.02,316.37 206.29,311.57 207.55,295.55 208.82,277.4 210.09,263.52 211.35,278.47 212.62,290.22 213.89,301.96 215.15,312.1 216.42,315.84 217.68,316.91 218.95,316.91 220.22,316.45 221.48,312.33 222.75,298.59 224.02,283.02 225.28,271.12 226.55,283.94 227.81,294.01 229.08,304.09 230.35,312.79 231.61,315.99 232.88,316.91 234.15,316.91 235.41,316.41 236.68,311.96 237.94,297.12 239.21,280.29 240.48,267.43 241.74,281.28 243.01,292.17 244.28,303.05 245.54,312.45 246.81,315.92 248.08,316.91 249.34,316.91 250.61,316.37 251.87,311.57 253.14,295.55 254.41,277.4 255.67,263.52 256.94,278.47 258.21,290.22 259.47,301.96 260.74,312.1 262,315.84 263.27,316.91 264.54,316.91 265.8,316.27 267.07,310.51 268.34,291.3 269.6,269.54 270.87,252.89 272.13,270.82 273.4,284.9 274.67,298.98 275.93,311.15 277.2,315.63" fill="none" stroke="#0f7f93" stroke-width="1.85" stroke-linejoin="round"/>
<polyline points="51.8,317.56 53.07,317.05 54.33,312.5 55.6,296.3 56.87,278.09 58.13,256.36 59.4,279.6 60.66,294.79 61.93,306.93 63.2,314.02 64.46,316.8 65.73,317.56 67,317.56 68.26,316.89 69.53,310.85 70.79,289.4 72.06,265.26 73.33,250.5 74.59,267.27 75.86,287.38 77.13,303.48 78.39,312.86 79.66,316.55 80.92,317.56 82.19,317.56 83.46,316.87 84.72,310.72 85.99,288.85 87.26,264.24 88.52,249.2 89.79,266.29 91.06,286.8 92.32,303.2 93.59,312.77 94.85,316.53 96.12,317.56 97.39,317.56 98.65,317.02 99.92,312.22 101.19,295.14 102.45,275.92 103.72,264.18 104.98,277.52 106.25,293.54 107.52,306.35 108.78,313.82 110.05,316.76 111.32,317.56 112.58,317.56 113.85,317.03 115.11,312.25 116.38,295.25 117.65,276.12 118.91,232.71 120.18,277.72 121.45,293.65 122.71,306.4 123.98,313.84 125.24,316.76 126.51,317.56 127.78,317.56 129.04,316.97 130.31,311.67 131.58,292.82 132.84,271.62 134.11,246.82 135.38,273.39 136.64,291.06 137.91,305.19 139.17,313.44 140.44,316.67 141.71,317.56 142.97,317.56 144.24,316.92 145.51,311.18 146.77,290.76 148.04,267.8 149.3,253.76 150.57,269.71 151.84,288.85 153.1,304.16 154.37,313.09 155.64,316.6 156.9,317.56 158.17,317.56 159.43,317.12 160.7,313.17 161.97,299.15 163.23,283.37 164.5,273.72 165.77,284.68 167.03,297.83 168.3,308.35 169.57,314.49 170.83,316.9 172.1,317.56 173.36,317.56 174.63,317.08 175.9,312.74 177.16,297.32 178.43,279.98 179.7,269.38 180.96,281.43 182.23,295.88 183.49,307.44 184.76,314.19 186.03,316.84 187.29,317.56 188.56,317.56 189.83,316.83 191.09,310.25 192.36,286.84 193.62,260.52 194.89,208.84 196.16,262.71 197.42,284.65 198.69,302.2 199.96,312.44 201.22,316.46 202.49,317.56 203.76,317.56 205.02,316.97 206.29,311.65 207.55,292.73 208.82,271.45 210.09,247.25 211.35,273.22 212.62,290.96 213.89,305.14 215.15,313.42 216.42,316.67 217.68,317.56 218.95,317.56 220.22,317.09 221.48,312.84 222.75,297.76 224.02,280.79 225.28,266.56 226.55,282.21 227.81,296.35 229.08,307.66 230.35,314.26 231.61,316.85 232.88,317.56 234.15,317.56 235.41,317.08 236.68,312.81 237.94,297.6 239.21,280.49 240.48,270.03 241.74,281.92 243.01,296.17 244.28,307.58 245.54,314.23 246.81,316.85 248.08,317.56 249.34,317.56 250.61,317.2 251.87,313.96 253.14,302.43 254.41,289.46 255.67,281.54 256.94,290.54 258.21,301.35 259.47,309.99 260.74,315.04 262,317.02 263.27,317.56 264.54,317.56 265.8,317.01 267.07,312.07 268.34,294.5 269.6,274.74 270.87,262.66 272.13,276.38 273.4,292.85 274.67,306.03 275.93,313.71 277.2,316.73" fill="none" stroke="#ff8020" stroke-width="1.75" stroke-dasharray="3 2.2"/>
</g>
<rect x="40.5" y="182" width="249" height="143" fill="none" stroke="#111" stroke-width="2"/>
<line x1="37.5" y1="323.2" x2="40.5" y2="323.2" stroke="#333" stroke-width="0.8"/>
<text transform="translate(35.5 326.2) scale(1 1.13)" font-size="8.5" text-anchor="end" fill="#1a1a1a" stroke="#1a1a1a" stroke-width="0.12">0</text>
<line x1="37.5" y1="301.5" x2="40.5" y2="301.5" stroke="#333" stroke-width="0.8"/>
<text transform="translate(35.5 304.5) scale(1 1.13)" font-size="8.5" text-anchor="end" fill="#1a1a1a" stroke="#1a1a1a" stroke-width="0.12">100</text>
<line x1="37.5" y1="279.8" x2="40.5" y2="279.8" stroke="#333" stroke-width="0.8"/>
<text transform="translate(35.5 282.8) scale(1 1.13)" font-size="8.5" text-anchor="end" fill="#1a1a1a" stroke="#1a1a1a" stroke-width="0.12">200</text>
<line x1="37.5" y1="258.1" x2="40.5" y2="258.1" stroke="#333" stroke-width="0.8"/>
<text transform="translate(35.5 261.1) scale(1 1.13)" font-size="8.5" text-anchor="end" fill="#1a1a1a" stroke="#1a1a1a" stroke-width="0.12">300</text>
<line x1="37.5" y1="236.4" x2="40.5" y2="236.4" stroke="#333" stroke-width="0.8"/>
<text transform="translate(35.5 239.4) scale(1 1.13)" font-size="8.5" text-anchor="end" fill="#1a1a1a" stroke="#1a1a1a" stroke-width="0.12">400</text>
<line x1="37.5" y1="214.7" x2="40.5" y2="214.7" stroke="#333" stroke-width="0.8"/>
<text transform="translate(35.5 217.7) scale(1 1.13)" font-size="8.5" text-anchor="end" fill="#1a1a1a" stroke="#1a1a1a" stroke-width="0.12">500</text>
<line x1="50.2" y1="325" x2="50.2" y2="327.5" stroke="#111" stroke-width="1"/>
<text transform="translate(55.9 338.1) scale(1 1.13)" font-size="8.5" text-anchor="middle" fill="#1a1a1a" stroke="#1a1a1a" stroke-width="0.12">2001-1</text>
<line x1="113.2" y1="325" x2="113.2" y2="327.5" stroke="#111" stroke-width="1"/>
<text transform="translate(113.6 338.1) scale(1 1.13)" font-size="8.5" text-anchor="middle" fill="#1a1a1a" stroke="#1a1a1a" stroke-width="0.12">2005-2</text>
<line x1="175.4" y1="325" x2="175.4" y2="327.5" stroke="#111" stroke-width="1"/>
<text transform="translate(172.7 338.1) scale(1 1.13)" font-size="8.5" text-anchor="middle" fill="#1a1a1a" stroke="#1a1a1a" stroke-width="0.12">2009-4</text>
<line x1="240" y1="325" x2="240" y2="327.5" stroke="#111" stroke-width="1"/>
<text transform="translate(234.3 338.1) scale(1 1.13)" font-size="8.5" text-anchor="middle" fill="#1a1a1a" stroke="#1a1a1a" stroke-width="0.12">2013-6</text>
<line x1="276.8" y1="325" x2="276.8" y2="327.5" stroke="#111" stroke-width="1"/>
<text transform="translate(273 338.1) scale(1 1.13)" font-size="8.5" text-anchor="middle" fill="#1a1a1a" stroke="#1a1a1a" stroke-width="0.12">2015-12</text>
<line x1="51.6" y1="199.7" x2="67.4" y2="199.7" stroke="#0f7f93" stroke-width="2"/>
<line x1="51.6" y1="209.3" x2="67.4" y2="209.3" stroke="#ff8020" stroke-width="1.9" stroke-dasharray="3 2.2"/>
<text transform="translate(73.6 203.2) scale(1 1.13)" font-size="8.4" fill="#1a1a1a" stroke="#1a1a1a" stroke-width="0.12">SSVR</text>
<text transform="translate(73.6 212.7) scale(1 1.13)" font-size="8.4" fill="#1a1a1a" stroke="#1a1a1a" stroke-width="0.12">Obs</text>
<rect x="222.4" y="185.8" width="61.2" height="53.3" fill="#fff" stroke="#555" stroke-width="1"/>
<path d="M227.74 185.8V239.1M222.4 233.65H283.6M233.28 185.8V239.1M222.4 228.2H283.6M238.82 185.8V239.1M222.4 222.75H283.6M244.36 185.8V239.1M222.4 217.3H283.6M249.9 185.8V239.1M222.4 211.85H283.6M255.44 185.8V239.1M222.4 206.4H283.6M260.98 185.8V239.1M222.4 200.95H283.6M266.52 185.8V239.1M222.4 195.5H283.6M272.06 185.8V239.1M222.4 190.05H283.6M277.6 185.8V239.1M283.14 185.8V239.1" stroke="#ececec" stroke-width="0.5" fill="none"/>
<defs><clipPath id="i2"><rect x="222.4" y="185.8" width="61.2" height="53.3"/></clipPath></defs>
<g clip-path="url(#i2)" fill="#3a8fd0" fill-opacity="0.33">
<circle cx="225.13" cy="235.12" r="0.6"/>
<circle cx="225.28" cy="235.96" r="0.6"/>
<circle cx="228.05" cy="234.18" r="0.6"/>
<circle cx="234.98" cy="225.01" r="0.6"/>
<circle cx="244.16" cy="213.22" r="0.6"/>
<circle cx="260.52" cy="205.82" r="0.6"/>
<circle cx="242.25" cy="218.18" r="0.6"/>
<circle cx="238.2" cy="221.26" r="0.6"/>
<circle cx="229.89" cy="226.61" r="0.6"/>
<circle cx="227" cy="233.9" r="0.6"/>
<circle cx="225.29" cy="234.66" r="0.6"/>
<circle cx="225.11" cy="236.55" r="0.6"/>
<circle cx="225.1" cy="236.1" r="0.6"/>
<circle cx="225.34" cy="235.85" r="0.6"/>
<circle cx="228.09" cy="233.16" r="0.6"/>
<circle cx="237.55" cy="224.53" r="0.6"/>
<circle cx="248.16" cy="216.98" r="0.6"/>
<circle cx="255.42" cy="197.38" r="0.6"/>
<circle cx="246.03" cy="213.54" r="0.6"/>
<circle cx="239.1" cy="221.56" r="0.6"/>
<circle cx="230.78" cy="224.43" r="0.6"/>
<circle cx="227.41" cy="231.63" r="0.6"/>
<circle cx="225.68" cy="234.29" r="0.6"/>
<circle cx="225.18" cy="236.05" r="0.6"/>
<circle cx="224.99" cy="236.03" r="0.6"/>
<circle cx="225.53" cy="235.39" r="0.6"/>
<circle cx="228.59" cy="231.45" r="0.6"/>
<circle cx="240.3" cy="221.41" r="0.6"/>
<circle cx="250.18" cy="208.27" r="0.6"/>
<circle cx="256.34" cy="198.95" r="0.6"/>
<circle cx="249.97" cy="210.08" r="0.6"/>
<circle cx="242.53" cy="214.6" r="0.6"/>
<circle cx="230.92" cy="226.38" r="0.6"/>
<circle cx="227.35" cy="232.84" r="0.6"/>
<circle cx="225.63" cy="234.91" r="0.6"/>
<circle cx="224.93" cy="235.16" r="0.6"/>
<circle cx="225.13" cy="236.18" r="0.6"/>
<circle cx="225.49" cy="235.51" r="0.6"/>
<circle cx="227.57" cy="235.19" r="0.6"/>
<circle cx="235.48" cy="229.82" r="0.6"/>
<circle cx="246.97" cy="217.45" r="0.6"/>
<circle cx="251.61" cy="216.29" r="0.6"/>
<circle cx="246.97" cy="214.91" r="0.6"/>
<circle cx="236.46" cy="223.04" r="0.6"/>
<circle cx="230.62" cy="228.56" r="0.6"/>
<circle cx="226.84" cy="232.96" r="0.6"/>
<circle cx="225.63" cy="235.1" r="0.6"/>
<circle cx="225.16" cy="236.09" r="0.6"/>
<circle cx="225.1" cy="236.16" r="0.6"/>
<circle cx="225.2" cy="235.66" r="0.6"/>
<circle cx="227.36" cy="233.45" r="0.6"/>
<circle cx="235.68" cy="226.89" r="0.6"/>
<circle cx="248.68" cy="217.26" r="0.6"/>
<circle cx="266.99" cy="214.1" r="0.6"/>
<circle cx="248.19" cy="214.96" r="0.6"/>
<circle cx="236.58" cy="222.44" r="0.6"/>
<circle cx="231.56" cy="228.73" r="0.6"/>
<circle cx="227.51" cy="232.62" r="0.6"/>
<circle cx="225.39" cy="234.9" r="0.6"/>
<circle cx="225.07" cy="235.45" r="0.6"/>
<circle cx="225.16" cy="235.97" r="0.6"/>
<circle cx="225.48" cy="235.93" r="0.6"/>
<circle cx="228.62" cy="233.6" r="0.6"/>
<circle cx="237.7" cy="224.41" r="0.6"/>
<circle cx="252.16" cy="223.24" r="0.6"/>
<circle cx="259.41" cy="219.64" r="0.6"/>
<circle cx="248.97" cy="213.88" r="0.6"/>
<circle cx="239.18" cy="224.65" r="0.6"/>
<circle cx="231.89" cy="228.99" r="0.6"/>
<circle cx="227.63" cy="234.1" r="0.6"/>
<circle cx="225.43" cy="236.62" r="0.6"/>
<circle cx="225" cy="235.66" r="0.6"/>
<circle cx="225.16" cy="235.68" r="0.6"/>
<circle cx="225.36" cy="235.45" r="0.6"/>
<circle cx="228.36" cy="234.21" r="0.6"/>
<circle cx="239.66" cy="222.07" r="0.6"/>
<circle cx="252.16" cy="214.86" r="0.6"/>
<circle cx="256.45" cy="206.66" r="0.6"/>
<circle cx="249.15" cy="217.72" r="0.6"/>
<circle cx="239.26" cy="221.21" r="0.6"/>
<circle cx="232.85" cy="227.75" r="0.6"/>
<circle cx="227.46" cy="233.4" r="0.6"/>
<circle cx="225.54" cy="234.74" r="0.6"/>
<circle cx="225.14" cy="236.7" r="0.6"/>
<circle cx="225.15" cy="235.21" r="0.6"/>
<circle cx="225.43" cy="236.46" r="0.6"/>
<circle cx="227.25" cy="233.44" r="0.6"/>
<circle cx="233.41" cy="223.95" r="0.6"/>
<circle cx="243.18" cy="219.95" r="0.6"/>
<circle cx="246.88" cy="206.22" r="0.6"/>
<circle cx="243.92" cy="216.61" r="0.6"/>
<circle cx="236.57" cy="222.86" r="0.6"/>
<circle cx="229.26" cy="228.76" r="0.6"/>
<circle cx="226.41" cy="232.54" r="0.6"/>
<circle cx="225.34" cy="235.91" r="0.6"/>
<circle cx="225.06" cy="236.41" r="0.6"/>
<circle cx="225.12" cy="235.06" r="0.6"/>
<circle cx="225.37" cy="235.96" r="0.6"/>
<circle cx="227.91" cy="232.95" r="0.6"/>
<circle cx="237.07" cy="224.23" r="0.6"/>
<circle cx="245.47" cy="213.95" r="0.6"/>
<circle cx="254.58" cy="209.39" r="0.6"/>
<circle cx="245.58" cy="217.3" r="0.6"/>
<circle cx="238.29" cy="219.77" r="0.6"/>
<circle cx="231.5" cy="228.87" r="0.6"/>
<circle cx="226.48" cy="233.47" r="0.6"/>
<circle cx="225.47" cy="236.96" r="0.6"/>
<circle cx="225.01" cy="235.8" r="0.6"/>
<circle cx="225.04" cy="235.83" r="0.6"/>
<circle cx="225.36" cy="236.32" r="0.6"/>
<circle cx="227.89" cy="238.34" r="0.6"/>
<circle cx="240.22" cy="223.26" r="0.6"/>
<circle cx="259.86" cy="212.39" r="0.6"/>
<circle cx="284.14" cy="209.46" r="0.6"/>
<circle cx="249.71" cy="215.03" r="0.6"/>
<circle cx="242.68" cy="218.12" r="0.6"/>
<circle cx="233.31" cy="229.87" r="0.6"/>
<circle cx="227.4" cy="233.19" r="0.6"/>
<circle cx="225.73" cy="235.24" r="0.6"/>
<circle cx="225.08" cy="236.28" r="0.6"/>
<circle cx="225.08" cy="236.51" r="0.6"/>
<circle cx="225.39" cy="236.74" r="0.6"/>
<circle cx="228.3" cy="232.64" r="0.6"/>
<circle cx="239.26" cy="226.93" r="0.6"/>
<circle cx="244.26" cy="219.12" r="0.6"/>
<circle cx="255.77" cy="210.55" r="0.6"/>
<circle cx="246.95" cy="213.84" r="0.6"/>
<circle cx="240.66" cy="222.99" r="0.6"/>
<circle cx="230.3" cy="228.92" r="0.6"/>
<circle cx="227.07" cy="233.58" r="0.6"/>
<circle cx="225.8" cy="236.83" r="0.6"/>
<circle cx="225.02" cy="237.21" r="0.6"/>
<circle cx="225.15" cy="236.82" r="0.6"/>
<circle cx="225.43" cy="234.94" r="0.6"/>
<circle cx="227.16" cy="233.39" r="0.6"/>
<circle cx="236.67" cy="225.52" r="0.6"/>
<circle cx="247.46" cy="218.74" r="0.6"/>
<circle cx="253.51" cy="209.98" r="0.6"/>
<circle cx="243.05" cy="216.88" r="0.6"/>
<circle cx="237.13" cy="226.74" r="0.6"/>
<circle cx="230.77" cy="230.08" r="0.6"/>
<circle cx="226.56" cy="232.9" r="0.6"/>
<circle cx="225.42" cy="235.98" r="0.6"/>
<circle cx="225" cy="235.69" r="0.6"/>
<circle cx="225.08" cy="234.41" r="0.6"/>
<circle cx="225.29" cy="235.7" r="0.6"/>
<circle cx="228.01" cy="233.87" r="0.6"/>
<circle cx="234.23" cy="226.42" r="0.6"/>
<circle cx="244.93" cy="219.5" r="0.6"/>
<circle cx="246.61" cy="209.27" r="0.6"/>
<circle cx="244.82" cy="220.24" r="0.6"/>
<circle cx="236.74" cy="226.32" r="0.6"/>
<circle cx="230.36" cy="227" r="0.6"/>
<circle cx="226.72" cy="234.15" r="0.6"/>
<circle cx="225.5" cy="235.56" r="0.6"/>
<circle cx="225.14" cy="235.57" r="0.6"/>
<circle cx="224.99" cy="236.9" r="0.6"/>
<circle cx="225.26" cy="235.39" r="0.6"/>
<circle cx="227.69" cy="234.35" r="0.6"/>
<circle cx="233.55" cy="225.26" r="0.6"/>
<circle cx="242.34" cy="215.08" r="0.6"/>
<circle cx="243.67" cy="202.98" r="0.6"/>
<circle cx="237.36" cy="217.95" r="0.6"/>
<circle cx="232.43" cy="219.07" r="0.6"/>
<circle cx="229.24" cy="230.5" r="0.6"/>
<circle cx="226.23" cy="233.73" r="0.6"/>
<circle cx="225.35" cy="234.48" r="0.6"/>
<circle cx="225.06" cy="236.73" r="0.6"/>
<circle cx="225.01" cy="236.74" r="0.6"/>
<circle cx="225.24" cy="234.7" r="0.6"/>
<circle cx="228.34" cy="232.04" r="0.6"/>
<circle cx="235.81" cy="225.39" r="0.6"/>
<circle cx="246.89" cy="210.18" r="0.6"/>
<circle cx="254.76" cy="208.66" r="0.6"/>
<circle cx="246.45" cy="214.71" r="0.6"/>
<circle cx="236.09" cy="220.42" r="0.6"/>
<circle cx="230.92" cy="226.44" r="0.6"/>
<circle cx="227.03" cy="232.24" r="0.6"/>
<circle cx="225.59" cy="234.57" r="0.6"/>
<circle cx="225.17" cy="235.85" r="0.6"/>
</g>
<line x1="222.7" y1="238.5" x2="275.5" y2="186.4" stroke="#2ee88a" stroke-width="1.3"/>
<line x1="225.5" y1="234.5" x2="280.9" y2="190.9" stroke="#b0161e" stroke-width="1.3"/>
<text transform="translate(221.2 230.1) scale(1 1.13)" font-size="5.3" text-anchor="end" fill="#3a3a3a">100</text>
<text transform="translate(221.2 219.2) scale(1 1.13)" font-size="5.3" text-anchor="end" fill="#3a3a3a">200</text>
<text transform="translate(221.2 208.3) scale(1 1.13)" font-size="5.3" text-anchor="end" fill="#3a3a3a">300</text>
<text transform="translate(221.2 197.4) scale(1 1.13)" font-size="5.3" text-anchor="end" fill="#3a3a3a">400</text>
<text transform="translate(233.28 245.2) scale(1 1.13)" font-size="5.3" text-anchor="middle" fill="#3a3a3a">100</text>
<text transform="translate(244.36 245.2) scale(1 1.13)" font-size="5.3" text-anchor="middle" fill="#3a3a3a">200</text>
<text transform="translate(255.44 245.2) scale(1 1.13)" font-size="5.3" text-anchor="middle" fill="#3a3a3a">300</text>
<text transform="translate(266.52 245.2) scale(1 1.13)" font-size="5.3" text-anchor="middle" fill="#3a3a3a">400</text>
<text transform="translate(277.6 245.2) scale(1 1.13)" font-size="5.3" text-anchor="middle" fill="#3a3a3a">500</text>
<text transform="translate(252.7 251.1) scale(1 1.13)" font-size="5.8" text-anchor="middle" fill="#1a1a1a" stroke="#1a1a1a" stroke-width="0.15">Obs</text>
<text transform="translate(210 212.3) rotate(-90)" font-size="5.4" font-weight="bold" text-anchor="middle" fill="#222">SSVR</text>
<defs><clipPath id="c3"><rect x="298" y="182" width="245.5" height="141"/></clipPath></defs>
<g clip-path="url(#c3)">
<polyline points="309,317.09 310.26,316.62 311.52,312.36 312.77,297.23 314.03,281.15 315.29,269.8 316.55,282.09 317.81,294.39 319.06,305.74 320.32,313.31 321.58,316.15 322.84,317.09 324.09,317.09 325.35,316.37 326.61,309.86 327.87,286.74 329.13,262.17 330.38,244.82 331.64,263.61 332.9,282.4 334.16,299.75 335.42,311.31 336.67,315.65 337.93,317.09 339.19,317.09 340.45,316.43 341.7,310.46 342.96,289.25 344.22,266.7 345.48,250.79 346.74,268.03 347.99,285.27 349.25,301.18 350.51,311.79 351.77,315.76 353.03,317.09 354.28,317.09 355.54,316.61 356.8,312.25 358.06,296.76 359.31,280.31 360.57,268.69 361.83,281.28 363.09,293.86 364.35,305.48 365.6,313.22 366.86,316.12 368.12,317.09 369.38,317.09 370.64,316.62 371.89,312.36 373.15,297.23 374.41,281.15 375.67,269.8 376.92,282.09 378.18,294.39 379.44,305.74 380.7,313.31 381.96,316.15 383.21,317.09 384.47,317.09 385.73,316.55 386.99,311.72 388.25,294.54 389.5,276.28 390.76,263.39 392.02,277.35 393.28,291.31 394.53,304.2 395.79,312.79 397.05,316.02 398.31,317.09 399.57,317.09 400.82,316.46 402.08,310.77 403.34,290.54 404.6,269.05 405.86,253.88 407.11,270.32 408.37,286.75 409.63,301.92 410.89,312.03 412.14,315.83 413.4,317.09 414.66,317.09 415.92,316.63 417.18,312.49 418.43,297.78 419.69,282.16 420.95,271.12 422.21,283.07 423.47,295.03 424.72,306.06 425.98,313.41 427.24,316.17 428.5,317.09 429.76,317.09 431.01,316.54 432.27,311.61 433.53,294.07 434.79,275.44 436.04,262.28 437.3,276.53 438.56,290.78 439.82,303.94 441.08,312.71 442.33,315.99 443.59,317.09 444.85,317.09 446.11,316.41 447.37,310.33 448.62,288.69 449.88,306.26 451.14,249.47 452.4,267.05 453.65,284.63 454.91,300.86 456.17,311.68 457.43,315.74 458.69,317.09 459.94,317.09 461.2,316.5 462.46,311.21 463.72,292.4 464.98,272.41 466.23,258.31 467.49,273.59 468.75,288.87 470.01,302.98 471.26,312.39 472.52,315.92 473.78,317.09 475.04,317.09 476.3,316.64 477.55,312.56 478.81,298.06 480.07,282.66 481.33,271.79 482.59,283.57 483.84,295.34 485.1,306.22 486.36,313.47 487.62,316.18 488.87,317.09 490.13,317.09 491.39,316.51 492.65,311.32 493.91,292.86 495.16,273.25 496.42,259.41 497.68,274.41 498.94,289.4 500.2,303.25 501.45,312.48 502.71,315.94 503.97,317.09 505.23,317.09 506.48,316.59 507.74,312.12 509,296.21 510.26,279.3 511.52,267.37 512.77,280.29 514.03,293.22 515.29,305.16 516.55,313.11 517.81,316.1 519.06,317.09 520.32,317.09 521.58,316.45 522.84,310.7 524.09,290.27 525.35,268.55 526.61,253.22 527.87,269.83 529.13,286.43 530.38,301.76 531.64,311.98 532.9,315.81" fill="none" stroke="#0f7f93" stroke-width="1.85" stroke-linejoin="round"/>
<polyline points="309,317.75 310.26,317.24 311.52,312.6 312.77,296.11 314.03,277.55 315.29,255.43 316.55,279.1 317.81,294.56 319.06,306.93 320.32,314.15 321.58,316.98 322.84,317.75 324.09,317.75 325.35,317.07 326.61,310.93 327.87,289.07 329.13,264.49 330.38,249.47 331.64,266.54 332.9,287.02 334.16,303.41 335.42,312.97 336.67,316.73 337.93,317.75 339.19,317.75 340.45,317.06 341.7,310.79 342.96,288.52 344.22,263.45 345.48,248.14 346.74,265.54 347.99,286.43 349.25,303.13 350.51,312.88 351.77,316.71 353.03,317.75 354.28,317.75 355.54,317.21 356.8,312.32 358.06,294.92 359.31,275.35 360.57,263.39 361.83,276.98 363.09,293.29 364.35,306.34 365.6,313.95 366.86,316.94 368.12,317.75 369.38,317.75 370.64,317.21 371.89,312.34 373.15,295.03 374.41,275.56 375.67,231.34 376.92,277.18 378.18,293.41 379.44,306.39 380.7,313.97 381.96,316.94 383.21,317.75 384.47,317.75 385.73,317.15 386.99,311.76 388.25,292.56 389.5,270.97 390.76,245.71 392.02,272.77 393.28,290.76 394.53,305.16 395.79,313.56 397.05,316.85 398.31,317.75 399.57,317.75 400.82,317.1 402.08,311.26 403.34,290.46 404.6,267.07 405.86,252.78 407.11,269.02 408.37,288.52 409.63,304.11 410.89,313.21 412.14,316.78 413.4,317.75 414.66,317.75 415.92,317.31 417.18,313.29 418.43,299 419.69,282.93 420.95,273.11 422.21,284.27 423.47,297.67 424.72,308.38 425.98,314.63 427.24,317.08 428.5,317.75 429.76,317.75 431.01,317.26 432.27,312.85 433.53,297.15 434.79,279.49 436.04,268.69 437.3,280.96 438.56,295.68 439.82,307.45 441.08,314.32 442.33,317.02 443.59,317.75 444.85,317.75 446.11,317.01 447.37,310.31 448.62,286.47 449.88,259.66 451.14,207.03 452.4,261.9 453.65,284.24 454.91,302.11 456.17,312.54 457.43,316.64 458.69,317.75 459.94,317.75 461.2,317.15 462.46,311.73 463.72,292.47 464.98,270.8 466.23,246.15 467.49,272.6 468.75,290.66 470.01,305.11 471.26,313.54 472.52,316.85 473.78,317.75 475.04,317.75 476.3,317.27 477.55,312.95 478.81,297.59 480.07,280.31 481.33,265.82 482.59,281.75 483.84,296.15 485.1,307.67 486.36,314.39 487.62,317.03 488.87,317.75 490.13,317.75 491.39,317.27 492.65,312.91 493.91,297.43 495.16,280 496.42,269.36 497.68,281.45 498.94,295.97 500.2,307.59 501.45,314.37 502.71,317.03 503.97,317.75 505.23,317.75 506.48,317.39 507.74,314.09 509,302.35 510.26,289.14 511.52,281.07 512.77,290.24 514.03,301.25 515.29,310.05 516.55,315.19 517.81,317.2 519.06,317.75 520.32,317.75 521.58,317.19 522.84,312.16 524.09,294.27 525.35,274.14 526.61,261.84 527.87,275.82 529.13,292.59 530.38,306.01 531.64,313.84 532.9,316.92" fill="none" stroke="#ff8020" stroke-width="1.75" stroke-dasharray="3 2.2"/>
</g>
<rect x="297" y="181" width="247.5" height="143" fill="none" stroke="#111" stroke-width="2"/>
<line x1="294" y1="322.2" x2="297" y2="322.2" stroke="#333" stroke-width="0.8"/>
<line x1="294" y1="303.5" x2="297" y2="303.5" stroke="#333" stroke-width="0.8"/>
<line x1="294" y1="280.9" x2="297" y2="280.9" stroke="#333" stroke-width="0.8"/>
<line x1="294" y1="258.7" x2="297" y2="258.7" stroke="#333" stroke-width="0.8"/>
<line x1="294" y1="235.6" x2="297" y2="235.6" stroke="#333" stroke-width="0.8"/>
<line x1="294" y1="213.4" x2="297" y2="213.4" stroke="#333" stroke-width="0.8"/>
<line x1="308.2" y1="324" x2="308.2" y2="326.5" stroke="#111" stroke-width="1"/>
<text transform="translate(309.4 337.5) scale(1 1.13)" font-size="8.5" text-anchor="middle" fill="#1a1a1a" stroke="#1a1a1a" stroke-width="0.12">2001-1</text>
<line x1="370" y1="324" x2="370" y2="326.5" stroke="#111" stroke-width="1"/>
<text transform="translate(367.5 337.5) scale(1 1.13)" font-size="8.5" text-anchor="middle" fill="#1a1a1a" stroke="#1a1a1a" stroke-width="0.12">2005-2</text>
<line x1="432.7" y1="324" x2="432.7" y2="326.5" stroke="#111" stroke-width="1"/>
<text transform="translate(428.4 337.5) scale(1 1.13)" font-size="8.5" text-anchor="middle" fill="#1a1a1a" stroke="#1a1a1a" stroke-width="0.12">2009-4</text>
<line x1="495.3" y1="324" x2="495.3" y2="326.5" stroke="#111" stroke-width="1"/>
<text transform="translate(488.3 337.5) scale(1 1.13)" font-size="8.5" text-anchor="middle" fill="#1a1a1a" stroke="#1a1a1a" stroke-width="0.12">2013-6</text>
<line x1="532.9" y1="324" x2="532.9" y2="326.5" stroke="#111" stroke-width="1"/>
<text transform="translate(528 337.5) scale(1 1.13)" font-size="8.5" text-anchor="middle" fill="#1a1a1a" stroke="#1a1a1a" stroke-width="0.12">2015-12</text>
<line x1="308.2" y1="194.5" x2="331.8" y2="194.5" stroke="#0f7f93" stroke-width="2"/>
<line x1="308.2" y1="204" x2="331.8" y2="204" stroke="#ff8020" stroke-width="1.9" stroke-dasharray="3 2.2"/>
<text transform="translate(338.5 199.4) scale(1 1.13)" font-size="8.6" fill="#1a1a1a" stroke="#1a1a1a" stroke-width="0.12">NSSVR</text>
<text transform="translate(338.5 208.1) scale(1 1.13)" font-size="8.6" fill="#1a1a1a" stroke="#1a1a1a" stroke-width="0.12">Obs</text>
<rect x="474.5" y="186.4" width="60.9" height="54" fill="#fff" stroke="#555" stroke-width="1"/>
<path d="M474.75 186.4V240.4M480.32 186.4V240.4M474.5 235.6H535.4M485.9 186.4V240.4M474.5 230H535.4M491.48 186.4V240.4M474.5 224.4H535.4M497.05 186.4V240.4M474.5 218.8H535.4M502.62 186.4V240.4M474.5 213.2H535.4M508.2 186.4V240.4M474.5 207.6H535.4M513.77 186.4V240.4M474.5 202H535.4M519.35 186.4V240.4M474.5 196.4H535.4M524.92 186.4V240.4M474.5 190.8H535.4M530.5 186.4V240.4" stroke="#ececec" stroke-width="0.5" fill="none"/>
<defs><clipPath id="i3"><rect x="474.5" y="186.4" width="60.9" height="54"/></clipPath></defs>
<g clip-path="url(#i3)" fill="#3a8fd0" fill-opacity="0.33">
<circle cx="477.63" cy="237.92" r="0.6"/>
<circle cx="477.95" cy="237.89" r="0.6"/>
<circle cx="479.74" cy="235.93" r="0.6"/>
<circle cx="488.15" cy="225.77" r="0.6"/>
<circle cx="498.15" cy="218.08" r="0.6"/>
<circle cx="510.6" cy="214.53" r="0.6"/>
<circle cx="497.99" cy="217.72" r="0.6"/>
<circle cx="487.38" cy="225.15" r="0.6"/>
<circle cx="482.08" cy="232.83" r="0.6"/>
<circle cx="479.71" cy="236.32" r="0.6"/>
<circle cx="477.95" cy="238.63" r="0.6"/>
<circle cx="477.7" cy="238.05" r="0.6"/>
<circle cx="477.76" cy="235.95" r="0.6"/>
<circle cx="477.97" cy="238.85" r="0.6"/>
<circle cx="481.36" cy="233.74" r="0.6"/>
<circle cx="492.81" cy="220.95" r="0.6"/>
<circle cx="506.17" cy="208.9" r="0.6"/>
<circle cx="514.27" cy="207.14" r="0.6"/>
<circle cx="499.29" cy="200.98" r="0.6"/>
<circle cx="491.85" cy="222" r="0.6"/>
<circle cx="483.73" cy="230.95" r="0.6"/>
<circle cx="480.24" cy="235.53" r="0.6"/>
<circle cx="478.33" cy="236.72" r="0.6"/>
<circle cx="477.59" cy="237.32" r="0.6"/>
<circle cx="477.66" cy="238.48" r="0.6"/>
<circle cx="477.93" cy="238.31" r="0.6"/>
<circle cx="480.9" cy="234.5" r="0.6"/>
<circle cx="491.17" cy="222.09" r="0.6"/>
<circle cx="497.38" cy="216.07" r="0.6"/>
<circle cx="520.25" cy="207.55" r="0.6"/>
<circle cx="504.27" cy="211.28" r="0.6"/>
<circle cx="491.26" cy="223.33" r="0.6"/>
<circle cx="484.62" cy="228.69" r="0.6"/>
<circle cx="480.02" cy="235.1" r="0.6"/>
<circle cx="478.13" cy="236.63" r="0.6"/>
<circle cx="477.67" cy="238.5" r="0.6"/>
<circle cx="477.63" cy="238.29" r="0.6"/>
<circle cx="477.99" cy="238.17" r="0.6"/>
<circle cx="480.14" cy="236" r="0.6"/>
<circle cx="487.95" cy="228.13" r="0.6"/>
<circle cx="501.68" cy="215.77" r="0.6"/>
<circle cx="503.44" cy="217.57" r="0.6"/>
<circle cx="497.81" cy="219.55" r="0.6"/>
<circle cx="490.83" cy="226.41" r="0.6"/>
<circle cx="483.73" cy="233.03" r="0.6"/>
<circle cx="479.64" cy="233.7" r="0.6"/>
<circle cx="478.09" cy="238.25" r="0.6"/>
<circle cx="477.62" cy="237.17" r="0.6"/>
<circle cx="477.65" cy="238.72" r="0.6"/>
<circle cx="477.99" cy="237.99" r="0.6"/>
<circle cx="480.54" cy="235.73" r="0.6"/>
<circle cx="488.45" cy="230.71" r="0.6"/>
<circle cx="497.44" cy="217.63" r="0.6"/>
<circle cx="509.05" cy="217.22" r="0.6"/>
<circle cx="497.44" cy="219.32" r="0.6"/>
<circle cx="488.95" cy="224.64" r="0.6"/>
<circle cx="483.4" cy="231.7" r="0.6"/>
<circle cx="479.61" cy="236.18" r="0.6"/>
<circle cx="478.2" cy="238.21" r="0.6"/>
<circle cx="477.7" cy="238.29" r="0.6"/>
<circle cx="477.72" cy="237.69" r="0.6"/>
<circle cx="478.05" cy="237.83" r="0.6"/>
<circle cx="480.37" cy="235.84" r="0.6"/>
<circle cx="492.13" cy="226.48" r="0.6"/>
<circle cx="504.04" cy="214.73" r="0.6"/>
<circle cx="523.15" cy="208.04" r="0.6"/>
<circle cx="496.07" cy="221.42" r="0.6"/>
<circle cx="489.32" cy="225.65" r="0.6"/>
<circle cx="484.01" cy="230.86" r="0.6"/>
<circle cx="479.71" cy="235.22" r="0.6"/>
<circle cx="478.26" cy="238.27" r="0.6"/>
<circle cx="477.62" cy="237.34" r="0.6"/>
<circle cx="477.65" cy="237.64" r="0.6"/>
<circle cx="477.95" cy="237.4" r="0.6"/>
<circle cx="480.57" cy="234.07" r="0.6"/>
<circle cx="491.56" cy="224.43" r="0.6"/>
<circle cx="504.09" cy="210.86" r="0.6"/>
<circle cx="508.5" cy="209" r="0.6"/>
<circle cx="502.71" cy="215.02" r="0.6"/>
<circle cx="495.44" cy="220.71" r="0.6"/>
<circle cx="485.03" cy="231.63" r="0.6"/>
<circle cx="479.68" cy="234.77" r="0.6"/>
<circle cx="478.02" cy="236.89" r="0.6"/>
<circle cx="477.55" cy="237.74" r="0.6"/>
<circle cx="477.64" cy="238.87" r="0.6"/>
<circle cx="477.86" cy="236.52" r="0.6"/>
<circle cx="480.14" cy="236.17" r="0.6"/>
<circle cx="486.2" cy="228.12" r="0.6"/>
<circle cx="495.7" cy="222.89" r="0.6"/>
<circle cx="501.58" cy="213.75" r="0.6"/>
<circle cx="493.7" cy="220.29" r="0.6"/>
<circle cx="485.53" cy="224.94" r="0.6"/>
<circle cx="482.78" cy="231.11" r="0.6"/>
<circle cx="479.22" cy="235.03" r="0.6"/>
<circle cx="477.99" cy="237.76" r="0.6"/>
<circle cx="477.64" cy="238.53" r="0.6"/>
<circle cx="477.71" cy="237.95" r="0.6"/>
<circle cx="477.84" cy="236.77" r="0.6"/>
<circle cx="479.85" cy="235.43" r="0.6"/>
<circle cx="487.22" cy="226.16" r="0.6"/>
<circle cx="496.93" cy="216.67" r="0.6"/>
<circle cx="506.01" cy="209.78" r="0.6"/>
<circle cx="497.77" cy="216.52" r="0.6"/>
<circle cx="488.51" cy="220.71" r="0.6"/>
<circle cx="482.63" cy="230.16" r="0.6"/>
<circle cx="479.61" cy="235.89" r="0.6"/>
<circle cx="478.01" cy="237.22" r="0.6"/>
<circle cx="477.55" cy="237.52" r="0.6"/>
<circle cx="477.72" cy="238.02" r="0.6"/>
<circle cx="478.23" cy="237.2" r="0.6"/>
<circle cx="481.82" cy="234.86" r="0.6"/>
<circle cx="492.29" cy="216.72" r="0.6"/>
<circle cx="505.55" cy="232.41" r="0.6"/>
<circle cx="524.47" cy="208.34" r="0.6"/>
<circle cx="499.29" cy="214.58" r="0.6"/>
<circle cx="495.77" cy="221.38" r="0.6"/>
<circle cx="486.12" cy="230.4" r="0.6"/>
<circle cx="480.65" cy="235.38" r="0.6"/>
<circle cx="478.4" cy="237.46" r="0.6"/>
<circle cx="477.71" cy="238.79" r="0.6"/>
<circle cx="477.56" cy="237.81" r="0.6"/>
<circle cx="477.83" cy="237.46" r="0.6"/>
<circle cx="480.96" cy="235.04" r="0.6"/>
<circle cx="488.49" cy="224.91" r="0.6"/>
<circle cx="499.59" cy="211.43" r="0.6"/>
<circle cx="515.04" cy="204.16" r="0.6"/>
<circle cx="503.18" cy="218.02" r="0.6"/>
<circle cx="492.07" cy="224.23" r="0.6"/>
<circle cx="483.96" cy="232.09" r="0.6"/>
<circle cx="479.75" cy="235.65" r="0.6"/>
<circle cx="478.33" cy="238.67" r="0.6"/>
<circle cx="477.63" cy="238.09" r="0.6"/>
<circle cx="477.62" cy="238.12" r="0.6"/>
<circle cx="477.92" cy="236.99" r="0.6"/>
<circle cx="480.56" cy="236.26" r="0.6"/>
<circle cx="486.83" cy="229.86" r="0.6"/>
<circle cx="494.1" cy="219.47" r="0.6"/>
<circle cx="504.34" cy="214.08" r="0.6"/>
<circle cx="496.41" cy="222.36" r="0.6"/>
<circle cx="487.1" cy="228.63" r="0.6"/>
<circle cx="483.56" cy="232.46" r="0.6"/>
<circle cx="479.65" cy="235.7" r="0.6"/>
<circle cx="478.19" cy="237.67" r="0.6"/>
<circle cx="477.63" cy="237.12" r="0.6"/>
<circle cx="477.63" cy="237.21" r="0.6"/>
<circle cx="477.79" cy="237.12" r="0.6"/>
<circle cx="480.39" cy="235.01" r="0.6"/>
<circle cx="486.94" cy="222.23" r="0.6"/>
<circle cx="498.65" cy="212.95" r="0.6"/>
<circle cx="504.44" cy="205.39" r="0.6"/>
<circle cx="493.93" cy="218.02" r="0.6"/>
<circle cx="487.78" cy="224.49" r="0.6"/>
<circle cx="483.15" cy="232.81" r="0.6"/>
<circle cx="479.61" cy="234.85" r="0.6"/>
<circle cx="478.1" cy="237.86" r="0.6"/>
<circle cx="477.6" cy="237.58" r="0.6"/>
<circle cx="477.6" cy="237.05" r="0.6"/>
<circle cx="477.82" cy="237.22" r="0.6"/>
<circle cx="479.74" cy="234.69" r="0.6"/>
<circle cx="485.25" cy="226.18" r="0.6"/>
<circle cx="491.08" cy="218.99" r="0.6"/>
<circle cx="494.3" cy="209.44" r="0.6"/>
<circle cx="490.1" cy="219.19" r="0.6"/>
<circle cx="486.96" cy="225.19" r="0.6"/>
<circle cx="481.77" cy="231.34" r="0.6"/>
<circle cx="479.07" cy="234.19" r="0.6"/>
<circle cx="477.94" cy="237.78" r="0.6"/>
<circle cx="477.66" cy="237.91" r="0.6"/>
<circle cx="477.58" cy="238.16" r="0.6"/>
<circle cx="478.08" cy="236.37" r="0.6"/>
<circle cx="480.56" cy="233.97" r="0.6"/>
<circle cx="487.6" cy="225.48" r="0.6"/>
<circle cx="499.25" cy="213.85" r="0.6"/>
<circle cx="505.42" cy="201.23" r="0.6"/>
<circle cx="502.27" cy="211.71" r="0.6"/>
<circle cx="490.07" cy="220.56" r="0.6"/>
<circle cx="484.32" cy="230.12" r="0.6"/>
<circle cx="479.49" cy="236.74" r="0.6"/>
<circle cx="478.13" cy="237.55" r="0.6"/>
<circle cx="477.66" cy="237.35" r="0.6"/>
</g>
<line x1="475.9" y1="239.1" x2="528.3" y2="186.4" stroke="#2ee88a" stroke-width="1.3"/>
<line x1="477.7" y1="238.5" x2="532.3" y2="190.5" stroke="#b0161e" stroke-width="1.3"/>
<text transform="translate(473.2 231.9) scale(1 1.13)" font-size="5.3" text-anchor="end" fill="#3a3a3a">100</text>
<text transform="translate(473.2 220.7) scale(1 1.13)" font-size="5.3" text-anchor="end" fill="#3a3a3a">200</text>
<text transform="translate(473.2 209.5) scale(1 1.13)" font-size="5.3" text-anchor="end" fill="#3a3a3a">300</text>
<text transform="translate(473.2 198.3) scale(1 1.13)" font-size="5.3" text-anchor="end" fill="#3a3a3a">400</text>
<text transform="translate(485.9 245.5) scale(1 1.13)" font-size="5.3" text-anchor="middle" fill="#3a3a3a">100</text>
<text transform="translate(497.05 245.5) scale(1 1.13)" font-size="5.3" text-anchor="middle" fill="#3a3a3a">200</text>
<text transform="translate(508.2 245.5) scale(1 1.13)" font-size="5.3" text-anchor="middle" fill="#3a3a3a">300</text>
<text transform="translate(519.35 245.5) scale(1 1.13)" font-size="5.3" text-anchor="middle" fill="#3a3a3a">400</text>
<text transform="translate(530.5 245.5) scale(1 1.13)" font-size="5.3" text-anchor="middle" fill="#3a3a3a">500</text>
<text transform="translate(505.9 250.7) scale(1 1.13)" font-size="5.8" text-anchor="middle" fill="#1a1a1a" stroke="#1a1a1a" stroke-width="0.15">Obs</text>
<text transform="translate(462.9 213.4) rotate(-90)" font-size="5.4" font-weight="bold" text-anchor="middle" fill="#222">NSSVR</text>
<defs><clipPath id="c4"><rect x="42" y="347" width="243.5" height="184.8"/></clipPath></defs>
<g clip-path="url(#c4)">
<polyline points="51.6,521.48 52.85,523.56 54.11,511.05 55.36,488.1 56.61,453.68 57.87,419.25 59.12,449.5 60.37,473.5 61.63,493.31 62.88,508.96 64.13,518.35 65.39,521.48 66.64,521.48 67.89,523.56 69.15,511.05 70.4,488.1 71.65,453.68 72.91,419.25 74.16,449.5 75.41,473.5 76.67,493.31 77.92,508.96 79.17,518.35 80.43,521.48 81.68,521.48 82.93,523.56 84.19,511.05 85.44,488.1 86.69,453.68 87.95,419.25 89.2,449.5 90.45,473.5 91.71,493.31 92.96,508.96 94.21,518.35 95.47,521.48 96.72,521.48 97.97,523.56 99.23,511.05 100.48,488.1 101.73,453.68 102.99,419.25 104.24,449.5 105.49,473.5 106.75,493.31 108,508.96 109.26,518.35 110.51,521.48 111.76,521.48 113.02,523.56 114.27,511.05 115.52,488.1 116.78,453.68 118.03,419.25 119.28,449.5 120.54,473.5 121.79,493.31 123.04,508.96 124.3,518.35 125.55,521.48 126.8,521.48 128.06,523.56 129.31,511.05 130.56,488.1 131.82,453.68 133.07,419.25 134.32,449.5 135.58,473.5 136.83,493.31 138.08,508.96 139.34,518.35 140.59,521.48 141.84,521.48 143.1,523.56 144.35,511.05 145.6,488.1 146.86,453.68 148.11,419.25 149.36,449.5 150.62,473.5 151.87,493.31 153.12,508.96 154.38,518.35 155.63,521.48 156.88,521.48 158.14,523.56 159.39,511.05 160.64,488.1 161.9,453.68 163.15,419.25 164.4,449.5 165.66,473.5 166.91,493.31 168.16,508.96 169.42,518.35 170.67,521.48 171.92,521.48 173.18,523.56 174.43,511.05 175.68,488.1 176.94,453.68 178.19,419.25 179.44,449.5 180.7,473.5 181.95,493.31 183.2,508.96 184.46,518.35 185.71,521.48 186.96,521.48 188.22,523.56 189.47,511.05 190.72,488.1 191.98,453.68 193.23,419.25 194.48,449.5 195.74,473.5 196.99,493.31 198.24,508.96 199.5,518.35 200.75,521.48 202,521.48 203.26,523.56 204.51,511.05 205.76,488.1 207.02,453.68 208.27,419.25 209.52,449.5 210.78,473.5 212.03,493.31 213.28,508.96 214.54,518.35 215.79,521.48 217.04,521.48 218.3,523.56 219.55,511.05 220.81,488.1 222.06,453.68 223.31,419.25 224.57,449.5 225.82,473.5 227.07,493.31 228.33,508.96 229.58,518.35 230.83,521.48 232.09,521.48 233.34,523.56 234.59,511.05 235.85,488.1 237.1,453.68 238.35,419.25 239.61,449.5 240.86,473.5 242.11,493.31 243.37,508.96 244.62,518.35 245.87,521.48 247.13,521.48 248.38,523.56 249.63,511.05 250.89,488.1 252.14,453.68 253.39,419.25 254.65,449.5 255.9,473.5 257.15,493.31 258.41,508.96 259.66,518.35 260.91,521.48 262.17,521.48 263.42,523.56 264.67,511.05 265.93,488.1 267.18,453.68 268.43,419.25 269.69,449.5 270.94,473.5 272.19,493.31 273.45,508.96 274.7,518.35" fill="none" stroke="#0f7f93" stroke-width="1.6" stroke-linejoin="round"/>
<polyline points="51.6,525.55 52.85,525.04 54.11,520.4 55.36,503.91 56.61,485.35 57.87,463.23 59.12,485.35 60.37,494.63 61.63,503.39 62.88,512.67 64.13,519.37 65.39,524.01 66.64,525.55 67.89,524.87 69.15,518.73 70.4,496.87 71.65,472.29 72.91,457.26 74.16,472.29 75.41,484.58 76.67,496.19 77.92,508.48 79.17,517.36 80.43,523.51 81.68,525.55 82.93,524.86 84.19,518.59 85.44,496.32 86.69,471.25 87.95,455.94 89.2,471.25 90.45,483.78 91.71,495.62 92.96,508.15 94.21,517.2 95.47,523.47 96.72,525.55 97.97,525.01 99.23,520.12 100.48,502.72 101.73,483.15 102.99,471.19 104.24,483.15 105.49,492.93 106.75,502.18 108,511.96 109.26,519.03 110.51,523.92 111.76,525.55 113.02,525.01 114.27,520.14 115.52,502.83 116.78,483.36 118.03,439.14 119.28,483.36 120.54,493.09 121.79,502.29 123.04,512.03 124.3,519.06 125.55,523.93 126.8,525.55 128.06,524.95 129.31,519.56 130.56,500.36 131.82,478.77 133.07,453.51 134.32,478.77 135.58,489.57 136.83,499.76 138.08,510.56 139.34,518.36 140.59,523.75 141.84,525.55 143.1,524.9 144.35,519.06 145.6,498.26 146.86,474.87 148.11,460.58 149.36,474.87 150.62,486.57 151.87,497.62 153.12,509.31 154.38,517.76 155.63,523.6 156.88,525.55 158.14,525.11 159.39,521.09 160.64,506.8 161.9,490.73 163.15,480.91 164.4,490.73 165.66,498.77 166.91,506.36 168.16,514.39 169.42,520.2 170.67,524.21 171.92,525.55 173.18,525.06 174.43,520.65 175.68,504.95 176.94,487.29 178.19,476.49 179.44,487.29 180.7,496.12 181.95,504.46 183.2,513.29 184.46,519.67 185.71,524.08 186.96,525.55 188.22,524.81 189.47,518.11 190.72,494.27 191.98,467.46 193.23,414.83 194.48,467.46 195.74,480.87 196.99,493.53 198.24,506.93 199.5,516.62 200.75,523.32 202,525.55 203.26,524.95 204.51,519.53 205.76,500.27 207.02,478.6 208.27,453.95 209.52,478.6 210.78,489.43 212.03,499.67 213.28,510.5 214.54,518.33 215.79,523.75 217.04,525.55 218.3,525.07 219.55,520.75 220.81,505.39 222.06,488.11 223.31,473.62 224.57,488.11 225.82,496.75 227.07,504.91 228.33,513.55 229.58,519.79 230.83,524.11 232.09,525.55 233.34,525.07 234.59,520.71 235.85,505.23 237.1,487.8 238.35,477.15 239.61,487.8 240.86,496.51 242.11,504.74 243.37,513.45 244.62,519.75 245.87,524.1 247.13,525.55 248.38,525.19 249.63,521.89 250.89,510.15 252.14,496.94 253.39,488.87 254.65,496.94 255.9,503.54 257.15,509.78 258.41,516.38 259.66,521.15 260.91,524.45 262.17,525.55 263.42,524.99 264.67,519.96 265.93,502.07 267.18,481.94 268.43,469.64 269.69,481.94 270.94,492.01 272.19,501.51 273.45,511.58 274.7,518.84" fill="none" stroke="#ff8020" stroke-width="1.75" stroke-dasharray="3 2.2"/>
</g>
<rect x="41" y="346" width="245.5" height="186.8" fill="none" stroke="#111" stroke-width="2"/>
<line x1="38" y1="531.3" x2="41" y2="531.3" stroke="#333" stroke-width="0.8"/>
<text transform="translate(36 534.3) scale(1 1.13)" font-size="8.5" text-anchor="end" fill="#1a1a1a" stroke="#1a1a1a" stroke-width="0.12">0</text>
<line x1="38" y1="509.2" x2="41" y2="509.2" stroke="#333" stroke-width="0.8"/>
<text transform="translate(36 512.2) scale(1 1.13)" font-size="8.5" text-anchor="end" fill="#1a1a1a" stroke="#1a1a1a" stroke-width="0.12">100</text>
<line x1="38" y1="487.1" x2="41" y2="487.1" stroke="#333" stroke-width="0.8"/>
<text transform="translate(36 490.1) scale(1 1.13)" font-size="8.5" text-anchor="end" fill="#1a1a1a" stroke="#1a1a1a" stroke-width="0.12">200</text>
<line x1="38" y1="465" x2="41" y2="465" stroke="#333" stroke-width="0.8"/>
<text transform="translate(36 468) scale(1 1.13)" font-size="8.5" text-anchor="end" fill="#1a1a1a" stroke="#1a1a1a" stroke-width="0.12">300</text>
<line x1="38" y1="442.9" x2="41" y2="442.9" stroke="#333" stroke-width="0.8"/>
<text transform="translate(36 445.9) scale(1 1.13)" font-size="8.5" text-anchor="end" fill="#1a1a1a" stroke="#1a1a1a" stroke-width="0.12">400</text>
<line x1="38" y1="420.8" x2="41" y2="420.8" stroke="#333" stroke-width="0.8"/>
<text transform="translate(36 423.8) scale(1 1.13)" font-size="8.5" text-anchor="end" fill="#1a1a1a" stroke="#1a1a1a" stroke-width="0.12">500</text>
<line x1="38" y1="398.7" x2="41" y2="398.7" stroke="#333" stroke-width="0.8"/>
<text transform="translate(36 401.7) scale(1 1.13)" font-size="8.5" text-anchor="end" fill="#1a1a1a" stroke="#1a1a1a" stroke-width="0.12">600</text>
<line x1="38" y1="376.6" x2="41" y2="376.6" stroke="#333" stroke-width="0.8"/>
<text transform="translate(36 379.6) scale(1 1.13)" font-size="8.5" text-anchor="end" fill="#1a1a1a" stroke="#1a1a1a" stroke-width="0.12">700</text>
<line x1="50.2" y1="532.8" x2="50.2" y2="535.3" stroke="#111" stroke-width="1"/>
<text transform="translate(51.7 545.3) scale(1 1.13)" font-size="8.5" text-anchor="middle" fill="#1a1a1a" stroke="#1a1a1a" stroke-width="0.12">2001-1</text>
<line x1="112.3" y1="532.8" x2="112.3" y2="535.3" stroke="#111" stroke-width="1"/>
<text transform="translate(109.9 545.3) scale(1 1.13)" font-size="8.5" text-anchor="middle" fill="#1a1a1a" stroke="#1a1a1a" stroke-width="0.12">2005-2</text>
<line x1="175.2" y1="532.8" x2="175.2" y2="535.3" stroke="#111" stroke-width="1"/>
<text transform="translate(170.1 545.3) scale(1 1.13)" font-size="8.5" text-anchor="middle" fill="#1a1a1a" stroke="#1a1a1a" stroke-width="0.12">2009-4</text>
<line x1="238.2" y1="532.8" x2="238.2" y2="535.3" stroke="#111" stroke-width="1"/>
<text transform="translate(230.3 545.3) scale(1 1.13)" font-size="8.5" text-anchor="middle" fill="#1a1a1a" stroke="#1a1a1a" stroke-width="0.12">2013-6</text>
<line x1="275.2" y1="532.8" x2="275.2" y2="535.3" stroke="#111" stroke-width="1"/>
<text transform="translate(271.8 545.3) scale(1 1.13)" font-size="8.5" text-anchor="middle" fill="#1a1a1a" stroke="#1a1a1a" stroke-width="0.12">2015-12</text>
<line x1="56" y1="360.3" x2="74.5" y2="360.3" stroke="#0f7f93" stroke-width="2"/>
<line x1="56" y1="370.6" x2="74.5" y2="370.6" stroke="#ff8020" stroke-width="1.9" stroke-dasharray="3 2.2"/>
<text transform="translate(80.5 364) scale(1 1.13)" font-size="8.6" fill="#1a1a1a" stroke="#1a1a1a" stroke-width="0.12">SANFIS</text>
<text transform="translate(80.5 374) scale(1 1.13)" font-size="8.6" fill="#1a1a1a" stroke="#1a1a1a" stroke-width="0.12">Obs</text>
<rect x="216.4" y="350.5" width="62.7" height="55.9" fill="#fff" stroke="#555" stroke-width="1"/>
<path d="M221.49 350.5V406.4M216.4 404.31H279.1M227.28 350.5V406.4M216.4 400.93H279.1M233.07 350.5V406.4M216.4 397.55H279.1M238.86 350.5V406.4M216.4 394.16H279.1M244.65 350.5V406.4M216.4 390.77H279.1M250.44 350.5V406.4M216.4 387.39H279.1M256.23 350.5V406.4M216.4 384H279.1M262.02 350.5V406.4M216.4 380.62H279.1M267.81 350.5V406.4M216.4 377.24H279.1M273.6 350.5V406.4M216.4 373.85H279.1M216.4 370.46H279.1M216.4 367.08H279.1M216.4 363.69H279.1M216.4 360.31H279.1M216.4 356.93H279.1M216.4 353.54H279.1" stroke="#ececec" stroke-width="0.5" fill="none"/>
<defs><clipPath id="i4"><rect x="216.4" y="350.5" width="62.7" height="55.9"/></clipPath></defs>
<g clip-path="url(#i4)" fill="#3a8fd0" fill-opacity="0.33">
<circle cx="218.85" cy="404.69" r="0.6"/>
<circle cx="218.93" cy="405.33" r="0.6"/>
<circle cx="221.38" cy="401.5" r="0.6"/>
<circle cx="229.19" cy="394.47" r="0.6"/>
<circle cx="238.1" cy="383.92" r="0.6"/>
<circle cx="255.98" cy="373.38" r="0.6"/>
<circle cx="239.1" cy="382.64" r="0.6"/>
<circle cx="230.64" cy="389.99" r="0.6"/>
<circle cx="225.06" cy="396.06" r="0.6"/>
<circle cx="221.08" cy="400.86" r="0.6"/>
<circle cx="219.23" cy="403.73" r="0.6"/>
<circle cx="218.78" cy="404.69" r="0.6"/>
<circle cx="218.66" cy="404.69" r="0.6"/>
<circle cx="219.2" cy="405.33" r="0.6"/>
<circle cx="222.65" cy="401.5" r="0.6"/>
<circle cx="232.16" cy="394.47" r="0.6"/>
<circle cx="244.67" cy="383.92" r="0.6"/>
<circle cx="256.53" cy="373.38" r="0.6"/>
<circle cx="242.75" cy="382.64" r="0.6"/>
<circle cx="233.18" cy="389.99" r="0.6"/>
<circle cx="225.45" cy="396.06" r="0.6"/>
<circle cx="221.41" cy="400.86" r="0.6"/>
<circle cx="219.15" cy="403.73" r="0.6"/>
<circle cx="218.7" cy="404.69" r="0.6"/>
<circle cx="218.75" cy="404.69" r="0.6"/>
<circle cx="219.2" cy="405.33" r="0.6"/>
<circle cx="222.83" cy="401.5" r="0.6"/>
<circle cx="235.3" cy="394.47" r="0.6"/>
<circle cx="248.91" cy="383.92" r="0.6"/>
<circle cx="248.58" cy="373.38" r="0.6"/>
<circle cx="246.03" cy="382.64" r="0.6"/>
<circle cx="236.9" cy="389.99" r="0.6"/>
<circle cx="227.06" cy="396.06" r="0.6"/>
<circle cx="221.12" cy="400.86" r="0.6"/>
<circle cx="219.34" cy="403.73" r="0.6"/>
<circle cx="218.71" cy="404.69" r="0.6"/>
<circle cx="218.72" cy="404.69" r="0.6"/>
<circle cx="218.97" cy="405.33" r="0.6"/>
<circle cx="221.24" cy="401.5" r="0.6"/>
<circle cx="228.68" cy="394.47" r="0.6"/>
<circle cx="237.83" cy="383.92" r="0.6"/>
<circle cx="245.98" cy="373.38" r="0.6"/>
<circle cx="246.4" cy="382.64" r="0.6"/>
<circle cx="229.2" cy="389.99" r="0.6"/>
<circle cx="225.04" cy="396.06" r="0.6"/>
<circle cx="221" cy="400.86" r="0.6"/>
<circle cx="219.24" cy="403.73" r="0.6"/>
<circle cx="218.73" cy="404.69" r="0.6"/>
<circle cx="218.74" cy="404.69" r="0.6"/>
<circle cx="219.04" cy="405.33" r="0.6"/>
<circle cx="221.44" cy="401.5" r="0.6"/>
<circle cx="230.24" cy="394.47" r="0.6"/>
<circle cx="241" cy="383.92" r="0.6"/>
<circle cx="264.52" cy="373.38" r="0.6"/>
<circle cx="240.61" cy="382.64" r="0.6"/>
<circle cx="230.54" cy="389.99" r="0.6"/>
<circle cx="225.5" cy="396.06" r="0.6"/>
<circle cx="220.86" cy="400.86" r="0.6"/>
<circle cx="219.1" cy="403.73" r="0.6"/>
<circle cx="218.61" cy="404.69" r="0.6"/>
<circle cx="218.63" cy="404.69" r="0.6"/>
<circle cx="218.99" cy="405.33" r="0.6"/>
<circle cx="221.79" cy="401.5" r="0.6"/>
<circle cx="230.73" cy="394.47" r="0.6"/>
<circle cx="245.36" cy="383.92" r="0.6"/>
<circle cx="251.52" cy="373.38" r="0.6"/>
<circle cx="245.49" cy="382.64" r="0.6"/>
<circle cx="230.43" cy="389.99" r="0.6"/>
<circle cx="225.78" cy="396.06" r="0.6"/>
<circle cx="220.61" cy="400.86" r="0.6"/>
<circle cx="218.99" cy="403.73" r="0.6"/>
<circle cx="218.69" cy="404.69" r="0.6"/>
<circle cx="218.7" cy="404.69" r="0.6"/>
<circle cx="219.04" cy="405.33" r="0.6"/>
<circle cx="222.35" cy="401.5" r="0.6"/>
<circle cx="232.51" cy="394.47" r="0.6"/>
<circle cx="242.29" cy="383.92" r="0.6"/>
<circle cx="253.13" cy="373.38" r="0.6"/>
<circle cx="247.12" cy="382.64" r="0.6"/>
<circle cx="235.2" cy="389.99" r="0.6"/>
<circle cx="224.65" cy="396.06" r="0.6"/>
<circle cx="220.79" cy="400.86" r="0.6"/>
<circle cx="219.14" cy="403.73" r="0.6"/>
<circle cx="218.67" cy="404.69" r="0.6"/>
<circle cx="218.55" cy="404.69" r="0.6"/>
<circle cx="218.85" cy="405.33" r="0.6"/>
<circle cx="220.67" cy="401.5" r="0.6"/>
<circle cx="227" cy="394.47" r="0.6"/>
<circle cx="239.85" cy="383.92" r="0.6"/>
<circle cx="242.36" cy="373.38" r="0.6"/>
<circle cx="236.52" cy="382.64" r="0.6"/>
<circle cx="229.89" cy="389.99" r="0.6"/>
<circle cx="223.45" cy="396.06" r="0.6"/>
<circle cx="220.48" cy="400.86" r="0.6"/>
<circle cx="219.12" cy="403.73" r="0.6"/>
<circle cx="218.74" cy="404.69" r="0.6"/>
<circle cx="218.72" cy="404.69" r="0.6"/>
<circle cx="219.04" cy="405.33" r="0.6"/>
<circle cx="221.32" cy="401.5" r="0.6"/>
<circle cx="229.05" cy="394.47" r="0.6"/>
<circle cx="238.98" cy="383.92" r="0.6"/>
<circle cx="245.26" cy="373.38" r="0.6"/>
<circle cx="236.55" cy="382.64" r="0.6"/>
<circle cx="230.24" cy="389.99" r="0.6"/>
<circle cx="223.67" cy="396.06" r="0.6"/>
<circle cx="220.47" cy="400.86" r="0.6"/>
<circle cx="219.14" cy="403.73" r="0.6"/>
<circle cx="218.79" cy="404.69" r="0.6"/>
<circle cx="218.84" cy="404.69" r="0.6"/>
<circle cx="219.2" cy="405.33" r="0.6"/>
<circle cx="222.19" cy="401.5" r="0.6"/>
<circle cx="234.44" cy="394.47" r="0.6"/>
<circle cx="241.96" cy="383.92" r="0.6"/>
<circle cx="272.34" cy="373.38" r="0.6"/>
<circle cx="244.98" cy="382.64" r="0.6"/>
<circle cx="236.34" cy="389.99" r="0.6"/>
<circle cx="227.09" cy="396.06" r="0.6"/>
<circle cx="221.77" cy="400.86" r="0.6"/>
<circle cx="219.32" cy="403.73" r="0.6"/>
<circle cx="218.62" cy="404.69" r="0.6"/>
<circle cx="218.69" cy="404.69" r="0.6"/>
<circle cx="219.24" cy="405.33" r="0.6"/>
<circle cx="222.11" cy="401.5" r="0.6"/>
<circle cx="232.93" cy="394.47" r="0.6"/>
<circle cx="244.23" cy="383.92" r="0.6"/>
<circle cx="247.86" cy="373.38" r="0.6"/>
<circle cx="242.02" cy="382.64" r="0.6"/>
<circle cx="232.96" cy="389.99" r="0.6"/>
<circle cx="224.62" cy="396.06" r="0.6"/>
<circle cx="220.8" cy="400.86" r="0.6"/>
<circle cx="219.29" cy="403.73" r="0.6"/>
<circle cx="218.72" cy="404.69" r="0.6"/>
<circle cx="218.72" cy="404.69" r="0.6"/>
<circle cx="218.94" cy="405.33" r="0.6"/>
<circle cx="221.31" cy="401.5" r="0.6"/>
<circle cx="229.89" cy="394.47" r="0.6"/>
<circle cx="238.84" cy="383.92" r="0.6"/>
<circle cx="243.64" cy="373.38" r="0.6"/>
<circle cx="236.4" cy="382.64" r="0.6"/>
<circle cx="228.38" cy="389.99" r="0.6"/>
<circle cx="224.63" cy="396.06" r="0.6"/>
<circle cx="220.49" cy="400.86" r="0.6"/>
<circle cx="219.23" cy="403.73" r="0.6"/>
<circle cx="218.8" cy="404.69" r="0.6"/>
<circle cx="218.64" cy="404.69" r="0.6"/>
<circle cx="218.97" cy="405.33" r="0.6"/>
<circle cx="221.48" cy="401.5" r="0.6"/>
<circle cx="227.41" cy="394.47" r="0.6"/>
<circle cx="239.32" cy="383.92" r="0.6"/>
<circle cx="244.55" cy="373.38" r="0.6"/>
<circle cx="236.97" cy="382.64" r="0.6"/>
<circle cx="231.06" cy="389.99" r="0.6"/>
<circle cx="223.44" cy="396.06" r="0.6"/>
<circle cx="220.58" cy="400.86" r="0.6"/>
<circle cx="219.25" cy="403.73" r="0.6"/>
<circle cx="218.69" cy="404.69" r="0.6"/>
<circle cx="218.8" cy="404.69" r="0.6"/>
<circle cx="218.87" cy="405.33" r="0.6"/>
<circle cx="220.67" cy="401.5" r="0.6"/>
<circle cx="227.91" cy="394.47" r="0.6"/>
<circle cx="234.82" cy="383.92" r="0.6"/>
<circle cx="240.16" cy="373.38" r="0.6"/>
<circle cx="235.31" cy="382.64" r="0.6"/>
<circle cx="229.05" cy="389.99" r="0.6"/>
<circle cx="222.42" cy="396.06" r="0.6"/>
<circle cx="220.46" cy="400.86" r="0.6"/>
<circle cx="219.01" cy="403.73" r="0.6"/>
<circle cx="218.76" cy="404.69" r="0.6"/>
<circle cx="218.71" cy="404.69" r="0.6"/>
<circle cx="219.19" cy="405.33" r="0.6"/>
<circle cx="221.92" cy="401.5" r="0.6"/>
<circle cx="229.12" cy="394.47" r="0.6"/>
<circle cx="240.38" cy="383.92" r="0.6"/>
<circle cx="247.25" cy="373.38" r="0.6"/>
<circle cx="240.73" cy="382.64" r="0.6"/>
<circle cx="232.25" cy="389.99" r="0.6"/>
<circle cx="225.19" cy="396.06" r="0.6"/>
<circle cx="220.7" cy="400.86" r="0.6"/>
<circle cx="219.15" cy="403.73" r="0.6"/>
<circle cx="218.71" cy="404.69" r="0.6"/>
</g>
<line x1="219.1" y1="404.5" x2="279.1" y2="370" stroke="#2ee88a" stroke-width="1.3"/>
<line x1="219.1" y1="404" x2="276.9" y2="355.5" stroke="#b0161e" stroke-width="1.3"/>
<text transform="translate(214.5 396.06) scale(1 1.13)" font-size="5.3" text-anchor="end" fill="#3a3a3a">200</text>
<text transform="translate(214.5 382.52) scale(1 1.13)" font-size="5.3" text-anchor="end" fill="#3a3a3a">400</text>
<text transform="translate(214.5 368.98) scale(1 1.13)" font-size="5.3" text-anchor="end" fill="#3a3a3a">600</text>
<text transform="translate(214.5 355.44) scale(1 1.13)" font-size="5.3" text-anchor="end" fill="#3a3a3a">800</text>
<text transform="translate(227.28 411.9) scale(1 1.13)" font-size="5.3" text-anchor="middle" fill="#3a3a3a">100</text>
<text transform="translate(238.86 411.9) scale(1 1.13)" font-size="5.3" text-anchor="middle" fill="#3a3a3a">200</text>
<text transform="translate(250.44 411.9) scale(1 1.13)" font-size="5.3" text-anchor="middle" fill="#3a3a3a">300</text>
<text transform="translate(262.02 411.9) scale(1 1.13)" font-size="5.3" text-anchor="middle" fill="#3a3a3a">400</text>
<text transform="translate(273.6 411.9) scale(1 1.13)" font-size="5.3" text-anchor="middle" fill="#3a3a3a">500</text>
<text transform="translate(240.9 416.9) scale(1 1.13)" font-size="5.8" text-anchor="middle" fill="#1a1a1a" stroke="#1a1a1a" stroke-width="0.15">Obs</text>
<text transform="translate(202.7 376.8) rotate(-90)" font-size="5.4" font-weight="bold" text-anchor="middle" fill="#222">SANFIS</text>
<defs><clipPath id="c5"><rect x="302" y="347.7" width="237.9" height="182.6"/></clipPath></defs>
<g clip-path="url(#c5)">
<polyline points="311.6,524.59 312.83,524.59 314.05,519.31 315.28,503.48 316.51,485.53 317.73,471.81 318.96,484.47 320.18,497.14 321.41,507.7 322.64,516.14 323.86,521.42 325.09,523.53 326.32,524.59 327.54,524.59 328.77,515.59 330,488.58 331.22,457.98 332.45,434.58 333.68,456.18 334.9,477.78 336.13,495.78 337.35,510.19 338.58,519.19 339.81,522.79 341.03,524.59 342.26,524.59 343.49,515.78 344.71,489.37 345.94,459.44 347.17,436.55 348.39,457.68 349.62,478.81 350.84,496.41 352.07,510.5 353.3,519.3 354.52,522.83 355.75,524.59 356.98,524.59 358.2,518 359.43,498.22 360.66,475.81 361.88,458.67 363.11,474.49 364.34,490.31 365.56,503.49 366.79,514.04 368.01,520.63 369.24,523.27 370.47,524.59 371.69,524.59 372.92,518.94 374.15,501.99 375.37,482.78 376.6,468.08 377.83,481.65 379.05,495.21 380.28,506.51 381.51,515.55 382.73,521.2 383.96,523.46 385.18,524.59 386.41,524.59 387.64,517.6 388.86,496.64 390.09,472.89 391.32,454.73 392.54,471.49 393.77,488.26 395,502.23 396.22,513.41 397.45,520.4 398.67,523.19 399.9,524.59 401.13,524.59 402.35,516.81 403.58,493.49 404.81,467.06 406.03,446.84 407.26,465.5 408.49,484.16 409.71,499.71 410.94,512.15 412.17,519.92 413.39,523.03 414.62,524.59 415.84,524.59 417.07,518.78 418.3,501.37 419.52,481.64 420.75,466.55 421.98,480.48 423.2,494.41 424.43,506.02 425.66,515.3 426.88,521.1 428.11,523.43 429.33,524.59 430.56,524.59 431.79,516.88 433.01,493.75 434.24,467.54 435.47,447.5 436.69,466 437.92,484.5 439.15,499.92 440.37,512.25 441.6,519.96 442.83,523.05 444.05,524.59 445.28,524.59 446.5,515.96 447.73,490.07 448.96,460.74 450.18,438.3 451.41,459.01 452.64,479.72 453.86,496.98 455.09,510.78 456.32,519.41 457.54,522.86 458.77,524.59 459.99,524.59 461.22,517.25 462.45,495.24 463.67,470.3 464.9,451.22 466.13,468.83 467.35,486.44 468.58,501.11 469.81,512.85 471.03,520.19 472.26,523.12 473.49,524.59 474.71,524.59 475.94,519.42 477.16,503.91 478.39,486.34 479.62,472.9 480.84,485.31 482.07,497.71 483.3,508.05 484.52,516.32 485.75,521.49 486.98,523.55 488.2,524.59 489.43,524.59 490.66,517.36 491.88,495.68 493.11,471.11 494.33,452.32 495.56,469.66 496.79,487.01 498.01,501.46 499.24,513.02 500.47,520.25 501.69,523.14 502.92,524.59 504.15,524.59 505.37,518.3 506.6,499.45 507.82,478.08 509.05,461.73 510.28,476.82 511.5,491.9 512.73,504.47 513.96,514.53 515.18,520.82 516.41,523.33 517.64,524.59 518.86,524.59 520.09,517.03 521.32,494.37 522.54,468.68 523.77,449.03 524.99,467.17 526.22,485.3 527.45,500.41 528.67,512.5 529.9,520.05" fill="none" stroke="#0f7f93" stroke-width="1.85" stroke-linejoin="round"/>
<polyline points="311.6,524.81 312.83,524.3 314.05,519.7 315.28,503.36 316.51,484.97 317.73,463.05 318.96,486.5 320.18,501.82 321.41,514.08 322.64,521.23 323.86,524.04 325.09,524.81 326.32,524.81 327.54,524.13 328.77,518.04 330,496.38 331.22,472.02 332.45,457.13 333.68,474.05 334.9,494.35 336.13,510.6 337.35,520.07 338.58,523.79 339.81,524.81 341.03,524.81 342.26,524.12 343.49,517.91 344.71,495.83 345.94,471 347.17,455.82 348.39,473.07 349.62,493.76 350.84,510.32 352.07,519.98 353.3,523.77 354.52,524.81 355.75,524.81 356.98,524.27 358.2,519.42 359.43,502.18 360.66,482.78 361.88,470.93 363.11,484.4 364.34,500.56 365.56,513.49 366.79,521.03 368.01,524 369.24,524.81 370.47,524.81 371.69,524.27 372.92,519.44 374.15,502.29 375.37,482.99 376.6,439.18 377.83,484.6 379.05,500.68 380.28,513.55 381.51,521.05 382.73,524 383.96,524.81 385.18,524.81 386.41,524.21 387.64,518.86 388.86,499.84 390.09,478.45 391.32,453.41 392.54,480.23 393.77,498.06 395,512.32 396.22,520.65 397.45,523.91 398.67,524.81 399.9,524.81 401.13,524.16 402.35,518.37 403.58,497.76 404.81,474.58 406.03,460.42 407.26,476.52 408.49,495.83 409.71,511.28 410.94,520.3 412.17,523.84 413.39,524.81 414.62,524.81 415.84,524.36 417.07,520.38 418.3,506.23 419.52,490.3 420.75,480.57 421.98,491.63 423.2,504.9 424.43,515.52 425.66,521.71 426.88,524.14 428.11,524.81 429.33,524.81 430.56,524.32 431.79,519.94 433.01,504.39 434.24,486.88 435.47,476.19 436.69,488.34 437.92,502.93 439.15,514.6 440.37,521.4 441.6,524.08 442.83,524.81 444.05,524.81 445.28,524.07 446.5,517.43 447.73,493.81 448.96,467.24 450.18,415.09 451.41,469.45 452.64,491.59 453.86,509.31 455.09,519.64 456.32,523.7 457.54,524.81 458.77,524.81 459.99,524.21 461.22,518.84 462.45,499.75 463.67,478.27 464.9,453.85 466.13,480.06 467.35,497.96 468.58,512.28 469.81,520.63 471.03,523.91 472.26,524.81 473.49,524.81 474.71,524.33 475.94,520.05 477.16,504.83 478.39,487.7 479.62,473.34 480.84,489.13 482.07,503.4 483.3,514.82 484.52,521.48 485.75,524.09 486.98,524.81 488.2,524.81 489.43,524.33 490.66,520.01 491.88,504.66 493.11,487.4 494.33,476.85 495.56,488.84 496.79,503.22 498.01,514.73 499.24,521.45 500.47,524.09 501.69,524.81 502.92,524.81 504.15,524.44 505.37,521.17 506.6,509.54 507.82,496.45 509.05,488.45 510.28,497.54 511.5,508.45 512.73,517.17 513.96,522.26 515.18,524.26 516.41,524.81 517.64,524.81 518.86,524.25 520.09,519.27 521.32,501.54 522.54,481.59 523.77,469.4 524.99,483.25 526.22,499.87 527.45,513.17 528.67,520.93 529.9,523.97" fill="none" stroke="#ff8020" stroke-width="1.75" stroke-dasharray="3 2.2"/>
</g>
<rect x="301" y="346.7" width="239.9" height="184.6" fill="none" stroke="#111" stroke-width="2"/>
<line x1="298" y1="530.5" x2="301" y2="530.5" stroke="#333" stroke-width="0.8"/>
<line x1="298" y1="508.6" x2="301" y2="508.6" stroke="#333" stroke-width="0.8"/>
<line x1="298" y1="486.7" x2="301" y2="486.7" stroke="#333" stroke-width="0.8"/>
<line x1="298" y1="464.8" x2="301" y2="464.8" stroke="#333" stroke-width="0.8"/>
<line x1="298" y1="442.9" x2="301" y2="442.9" stroke="#333" stroke-width="0.8"/>
<line x1="298" y1="421" x2="301" y2="421" stroke="#333" stroke-width="0.8"/>
<line x1="298" y1="399.1" x2="301" y2="399.1" stroke="#333" stroke-width="0.8"/>
<line x1="298" y1="377.2" x2="301" y2="377.2" stroke="#333" stroke-width="0.8"/>
<line x1="310.5" y1="531.3" x2="310.5" y2="533.8" stroke="#111" stroke-width="1"/>
<text transform="translate(313.4 543.3) scale(1 1.13)" font-size="8.5" text-anchor="middle" fill="#1a1a1a" stroke="#1a1a1a" stroke-width="0.12">2001-1</text>
<line x1="371.1" y1="531.3" x2="371.1" y2="533.8" stroke="#111" stroke-width="1"/>
<text transform="translate(371.7 543.3) scale(1 1.13)" font-size="8.5" text-anchor="middle" fill="#1a1a1a" stroke="#1a1a1a" stroke-width="0.12">2005-2</text>
<line x1="432.7" y1="531.3" x2="432.7" y2="533.8" stroke="#111" stroke-width="1"/>
<text transform="translate(432.2 543.3) scale(1 1.13)" font-size="8.5" text-anchor="middle" fill="#1a1a1a" stroke="#1a1a1a" stroke-width="0.12">2009-4</text>
<line x1="493" y1="531.3" x2="493" y2="533.8" stroke="#111" stroke-width="1"/>
<text transform="translate(492.2 543.3) scale(1 1.13)" font-size="8.5" text-anchor="middle" fill="#1a1a1a" stroke="#1a1a1a" stroke-width="0.12">2013-6</text>
<line x1="530.4" y1="531.3" x2="530.4" y2="533.8" stroke="#111" stroke-width="1"/>
<text transform="translate(531.5 543.3) scale(1 1.13)" font-size="8.5" text-anchor="middle" fill="#1a1a1a" stroke="#1a1a1a" stroke-width="0.12">2015-12</text>
<line x1="309" y1="358.5" x2="323.6" y2="358.5" stroke="#0f7f93" stroke-width="2"/>
<line x1="309" y1="368" x2="323.6" y2="368" stroke="#ff8020" stroke-width="1.9" stroke-dasharray="3 2.2"/>
<text transform="translate(331 363.2) scale(1 1.13)" font-size="8.6" fill="#1a1a1a" stroke="#1a1a1a" stroke-width="0.12">NSANFIS</text>
<text transform="translate(331 373.1) scale(1 1.13)" font-size="8.6" fill="#1a1a1a" stroke="#1a1a1a" stroke-width="0.12">Obs</text>
<rect x="472.6" y="352.7" width="62" height="54.6" fill="#fff" stroke="#555" stroke-width="1"/>
<path d="M477.67 352.7V407.3M472.6 403.96H534.6M483.23 352.7V407.3M472.6 399.12H534.6M488.8 352.7V407.3M472.6 394.28H534.6M494.36 352.7V407.3M472.6 389.44H534.6M499.93 352.7V407.3M472.6 384.6H534.6M505.49 352.7V407.3M472.6 379.76H534.6M511.06 352.7V407.3M472.6 374.92H534.6M516.62 352.7V407.3M472.6 370.08H534.6M522.19 352.7V407.3M472.6 365.24H534.6M527.75 352.7V407.3M472.6 360.4H534.6M533.32 352.7V407.3M472.6 355.56H534.6" stroke="#ececec" stroke-width="0.5" fill="none"/>
<defs><clipPath id="i5"><rect x="472.6" y="352.7" width="62" height="54.6"/></clipPath></defs>
<g clip-path="url(#i5)" fill="#3a8fd0" fill-opacity="0.33">
<circle cx="475.04" cy="406.51" r="0.6"/>
<circle cx="475.4" cy="406.76" r="0.6"/>
<circle cx="477.27" cy="403.66" r="0.6"/>
<circle cx="487.25" cy="394.71" r="0.6"/>
<circle cx="493.37" cy="389.42" r="0.6"/>
<circle cx="508.01" cy="382.81" r="0.6"/>
<circle cx="497.22" cy="387.26" r="0.6"/>
<circle cx="486.1" cy="393.18" r="0.6"/>
<circle cx="482.52" cy="399.53" r="0.6"/>
<circle cx="476.72" cy="403.51" r="0.6"/>
<circle cx="475.59" cy="405.48" r="0.6"/>
<circle cx="474.98" cy="405.04" r="0.6"/>
<circle cx="474.88" cy="405.82" r="0.6"/>
<circle cx="475.2" cy="406.95" r="0.6"/>
<circle cx="479.14" cy="403.03" r="0.6"/>
<circle cx="488.46" cy="390.26" r="0.6"/>
<circle cx="501.28" cy="373.64" r="0.6"/>
<circle cx="510.6" cy="362.54" r="0.6"/>
<circle cx="505.45" cy="382.27" r="0.6"/>
<circle cx="490.33" cy="390.55" r="0.6"/>
<circle cx="482.68" cy="393.07" r="0.6"/>
<circle cx="477.07" cy="400.47" r="0.6"/>
<circle cx="475.48" cy="404.99" r="0.6"/>
<circle cx="474.95" cy="405.81" r="0.6"/>
<circle cx="475" cy="406.19" r="0.6"/>
<circle cx="475.37" cy="406.21" r="0.6"/>
<circle cx="478.25" cy="403.19" r="0.6"/>
<circle cx="488.67" cy="390.21" r="0.6"/>
<circle cx="503.85" cy="377.19" r="0.6"/>
<circle cx="512.38" cy="369.24" r="0.6"/>
<circle cx="502.19" cy="382.3" r="0.6"/>
<circle cx="494.02" cy="382.72" r="0.6"/>
<circle cx="482.88" cy="396.05" r="0.6"/>
<circle cx="477.46" cy="400.91" r="0.6"/>
<circle cx="475.53" cy="402.8" r="0.6"/>
<circle cx="475.03" cy="404.72" r="0.6"/>
<circle cx="474.99" cy="407.02" r="0.6"/>
<circle cx="475.34" cy="406.63" r="0.6"/>
<circle cx="477.4" cy="402.27" r="0.6"/>
<circle cx="487.44" cy="392.2" r="0.6"/>
<circle cx="497.06" cy="382.53" r="0.6"/>
<circle cx="502" cy="383.49" r="0.6"/>
<circle cx="492.58" cy="386.12" r="0.6"/>
<circle cx="486.29" cy="387.59" r="0.6"/>
<circle cx="480.03" cy="396.78" r="0.6"/>
<circle cx="476.92" cy="401.52" r="0.6"/>
<circle cx="475.34" cy="404.78" r="0.6"/>
<circle cx="474.98" cy="405.78" r="0.6"/>
<circle cx="475.07" cy="406.06" r="0.6"/>
<circle cx="475.23" cy="406.32" r="0.6"/>
<circle cx="477.71" cy="404" r="0.6"/>
<circle cx="486.99" cy="397.09" r="0.6"/>
<circle cx="494.7" cy="383.52" r="0.6"/>
<circle cx="515.06" cy="383.71" r="0.6"/>
<circle cx="494.55" cy="391.42" r="0.6"/>
<circle cx="485.27" cy="393.59" r="0.6"/>
<circle cx="481.63" cy="396.75" r="0.6"/>
<circle cx="476.64" cy="402.61" r="0.6"/>
<circle cx="475.38" cy="404.59" r="0.6"/>
<circle cx="475.04" cy="404.95" r="0.6"/>
<circle cx="475.05" cy="407.01" r="0.6"/>
<circle cx="475.38" cy="406.05" r="0.6"/>
<circle cx="478.12" cy="402.5" r="0.6"/>
<circle cx="487.67" cy="391.53" r="0.6"/>
<circle cx="497.61" cy="386.02" r="0.6"/>
<circle cx="510.73" cy="372.27" r="0.6"/>
<circle cx="497.25" cy="377.49" r="0.6"/>
<circle cx="488.79" cy="392.86" r="0.6"/>
<circle cx="480.76" cy="395.74" r="0.6"/>
<circle cx="477.43" cy="400.94" r="0.6"/>
<circle cx="475.57" cy="403.01" r="0.6"/>
<circle cx="475.02" cy="405.77" r="0.6"/>
<circle cx="475.02" cy="406.2" r="0.6"/>
<circle cx="475.44" cy="405.85" r="0.6"/>
<circle cx="478.34" cy="401.49" r="0.6"/>
<circle cx="487.79" cy="390.65" r="0.6"/>
<circle cx="504.65" cy="380.08" r="0.6"/>
<circle cx="508.04" cy="365.33" r="0.6"/>
<circle cx="502.4" cy="381.13" r="0.6"/>
<circle cx="492.08" cy="382.99" r="0.6"/>
<circle cx="481.38" cy="394.86" r="0.6"/>
<circle cx="477.61" cy="400.84" r="0.6"/>
<circle cx="475.33" cy="404.8" r="0.6"/>
<circle cx="475.01" cy="405.79" r="0.6"/>
<circle cx="474.91" cy="406.17" r="0.6"/>
<circle cx="475.14" cy="406.02" r="0.6"/>
<circle cx="476.92" cy="403.91" r="0.6"/>
<circle cx="484.83" cy="396.05" r="0.6"/>
<circle cx="491.82" cy="387.01" r="0.6"/>
<circle cx="494" cy="378.78" r="0.6"/>
<circle cx="491.61" cy="385.17" r="0.6"/>
<circle cx="483.81" cy="391.4" r="0.6"/>
<circle cx="479.25" cy="397.08" r="0.6"/>
<circle cx="476.75" cy="400.6" r="0.6"/>
<circle cx="475.3" cy="404.78" r="0.6"/>
<circle cx="475.01" cy="405.33" r="0.6"/>
<circle cx="474.8" cy="407.4" r="0.6"/>
<circle cx="475.24" cy="406.6" r="0.6"/>
<circle cx="477.87" cy="401.95" r="0.6"/>
<circle cx="485.14" cy="394.03" r="0.6"/>
<circle cx="495.53" cy="381.58" r="0.6"/>
<circle cx="504.27" cy="367.82" r="0.6"/>
<circle cx="494.6" cy="379.72" r="0.6"/>
<circle cx="486.21" cy="386.74" r="0.6"/>
<circle cx="479.07" cy="392.6" r="0.6"/>
<circle cx="477.58" cy="399.31" r="0.6"/>
<circle cx="475.36" cy="404.89" r="0.6"/>
<circle cx="474.97" cy="406.28" r="0.6"/>
<circle cx="475.01" cy="407.19" r="0.6"/>
<circle cx="475.33" cy="406.3" r="0.6"/>
<circle cx="479.19" cy="402.58" r="0.6"/>
<circle cx="487.88" cy="390.18" r="0.6"/>
<circle cx="502.49" cy="374.61" r="0.6"/>
<circle cx="531.17" cy="375.53" r="0.6"/>
<circle cx="499.59" cy="375.51" r="0.6"/>
<circle cx="491.78" cy="388.87" r="0.6"/>
<circle cx="481.98" cy="392.67" r="0.6"/>
<circle cx="477.61" cy="398.75" r="0.6"/>
<circle cx="475.63" cy="403.72" r="0.6"/>
<circle cx="475.11" cy="405.68" r="0.6"/>
<circle cx="475.04" cy="405.63" r="0.6"/>
<circle cx="475.33" cy="406.83" r="0.6"/>
<circle cx="478.08" cy="403.67" r="0.6"/>
<circle cx="488.45" cy="391.57" r="0.6"/>
<circle cx="500.04" cy="377.02" r="0.6"/>
<circle cx="508.22" cy="381.21" r="0.6"/>
<circle cx="498.47" cy="382.41" r="0.6"/>
<circle cx="488.06" cy="392.21" r="0.6"/>
<circle cx="480.86" cy="395.14" r="0.6"/>
<circle cx="476.87" cy="401.53" r="0.6"/>
<circle cx="475.39" cy="403.17" r="0.6"/>
<circle cx="474.99" cy="405.23" r="0.6"/>
<circle cx="474.93" cy="406.35" r="0.6"/>
<circle cx="475.24" cy="406.42" r="0.6"/>
<circle cx="477.61" cy="404.55" r="0.6"/>
<circle cx="485.85" cy="395.81" r="0.6"/>
<circle cx="493.14" cy="391.53" r="0.6"/>
<circle cx="504.12" cy="385.35" r="0.6"/>
<circle cx="493.67" cy="388.62" r="0.6"/>
<circle cx="486.39" cy="393.41" r="0.6"/>
<circle cx="480.32" cy="399.97" r="0.6"/>
<circle cx="476.82" cy="402.57" r="0.6"/>
<circle cx="475.42" cy="404.36" r="0.6"/>
<circle cx="475.05" cy="406.59" r="0.6"/>
<circle cx="475.09" cy="407.29" r="0.6"/>
<circle cx="475.19" cy="406.27" r="0.6"/>
<circle cx="477.48" cy="401.04" r="0.6"/>
<circle cx="484.28" cy="393.45" r="0.6"/>
<circle cx="492.16" cy="380.51" r="0.6"/>
<circle cx="500.4" cy="372.11" r="0.6"/>
<circle cx="496.76" cy="383.88" r="0.6"/>
<circle cx="486.41" cy="393.2" r="0.6"/>
<circle cx="479.69" cy="396.52" r="0.6"/>
<circle cx="476.54" cy="401.01" r="0.6"/>
<circle cx="475.41" cy="404.77" r="0.6"/>
<circle cx="474.98" cy="405.3" r="0.6"/>
<circle cx="474.9" cy="405.81" r="0.6"/>
<circle cx="475.41" cy="405.28" r="0.6"/>
<circle cx="476.96" cy="404.4" r="0.6"/>
<circle cx="482.73" cy="395.18" r="0.6"/>
<circle cx="488.3" cy="383.09" r="0.6"/>
<circle cx="493.96" cy="376.2" r="0.6"/>
<circle cx="489.55" cy="385.26" r="0.6"/>
<circle cx="484.03" cy="393.25" r="0.6"/>
<circle cx="478.83" cy="395.56" r="0.6"/>
<circle cx="476.37" cy="401.67" r="0.6"/>
<circle cx="475.3" cy="403.63" r="0.6"/>
<circle cx="474.93" cy="403.88" r="0.6"/>
<circle cx="474.9" cy="406.45" r="0.6"/>
<circle cx="475.26" cy="405.74" r="0.6"/>
<circle cx="477.59" cy="402.2" r="0.6"/>
<circle cx="486.86" cy="391.46" r="0.6"/>
<circle cx="493.76" cy="384.15" r="0.6"/>
<circle cx="501.79" cy="375.62" r="0.6"/>
<circle cx="497.5" cy="377.39" r="0.6"/>
<circle cx="487.47" cy="386.2" r="0.6"/>
<circle cx="481.53" cy="395.07" r="0.6"/>
<circle cx="477.09" cy="401.2" r="0.6"/>
<circle cx="475.46" cy="404.4" r="0.6"/>
<circle cx="474.96" cy="404.11" r="0.6"/>
</g>
<line x1="478.1" y1="403.3" x2="533.5" y2="356" stroke="#2ee88a" stroke-width="1.3"/>
<line x1="473.2" y1="402.2" x2="533.5" y2="358.7" stroke="#b0161e" stroke-width="1.3"/>
<text transform="translate(471.9 401.02) scale(1 1.13)" font-size="5.3" text-anchor="end" fill="#3a3a3a">100</text>
<text transform="translate(471.9 391.34) scale(1 1.13)" font-size="5.3" text-anchor="end" fill="#3a3a3a">200</text>
<text transform="translate(471.9 381.66) scale(1 1.13)" font-size="5.3" text-anchor="end" fill="#3a3a3a">300</text>
<text transform="translate(471.9 371.98) scale(1 1.13)" font-size="5.3" text-anchor="end" fill="#3a3a3a">400</text>
<text transform="translate(471.9 362.3) scale(1 1.13)" font-size="5.3" text-anchor="end" fill="#3a3a3a">500</text>
<text transform="translate(483.23 411.9) scale(1 1.13)" font-size="5.3" text-anchor="middle" fill="#3a3a3a">100</text>
<text transform="translate(494.36 411.9) scale(1 1.13)" font-size="5.3" text-anchor="middle" fill="#3a3a3a">200</text>
<text transform="translate(505.49 411.9) scale(1 1.13)" font-size="5.3" text-anchor="middle" fill="#3a3a3a">300</text>
<text transform="translate(516.62 411.9) scale(1 1.13)" font-size="5.3" text-anchor="middle" fill="#3a3a3a">400</text>
<text transform="translate(527.75 411.9) scale(1 1.13)" font-size="5.3" text-anchor="middle" fill="#3a3a3a">500</text>
<text transform="translate(504 418) scale(1 1.13)" font-size="5.8" text-anchor="middle" fill="#1a1a1a" stroke="#1a1a1a" stroke-width="0.15">Obs</text>
<text transform="translate(462.9 375.2) rotate(-90)" font-size="5.4" font-weight="bold" text-anchor="middle" fill="#222">NSANFIS</text>
<text transform="translate(14.6 100.6) rotate(-90) scale(1.13 1)" font-size="12.61" text-anchor="middle" fill="#1a1a1a" stroke="#1a1a1a" stroke-width="0.15">Streamflow (m<tspan font-size="6.3" dy="-4.27">3</tspan><tspan dy="4.27">/s)</tspan></text>
<text transform="translate(14.6 276.7) rotate(-90) scale(1.13 1)" font-size="12.61" text-anchor="middle" fill="#1a1a1a" stroke="#1a1a1a" stroke-width="0.15">Streamflow (m<tspan font-size="6.3" dy="-4.27">3</tspan><tspan dy="4.27">/s)</tspan></text>
<text transform="translate(14.6 442.2) rotate(-90) scale(1.13 1)" font-size="12.61" text-anchor="middle" fill="#1a1a1a" stroke="#1a1a1a" stroke-width="0.15">Streamflow (m<tspan font-size="6.3" dy="-4.27">3</tspan><tspan dy="4.27">/s)</tspan></text>
<text transform="translate(159.4 560.7) scale(1 1.13)" font-size="9.6" letter-spacing="0.45" text-anchor="middle" fill="#2a2a2a" stroke="#2a2a2a" stroke-width="0.28">Year-Month</text>
<text transform="translate(427.5 561.6) scale(1 1.13)" font-size="9.6" letter-spacing="0.45" text-anchor="middle" fill="#2a2a2a" stroke="#2a2a2a" stroke-width="0.28">Year-Month</text>
<rect x="305" y="380.1" width="120.4" height="48" fill="#fff" stroke="#888" stroke-width="1.1"/>
<line x1="312.7" y1="389" x2="337.7" y2="389" stroke="#d03a3a" stroke-width="1"/>
<text transform="translate(340.7 390.6) scale(1 1.13)" font-size="6.5" letter-spacing="0.28" fill="#222" stroke="#222" stroke-width="0.22">Fitted line</text>
<line x1="312.7" y1="398.7" x2="339.4" y2="398.7" stroke="#6ee8a8" stroke-width="1"/>
<text transform="translate(342 400.3) scale(1 1.13)" font-size="6.5" letter-spacing="0.28" fill="#222" stroke="#222" stroke-width="0.22">1:1 line</text>
<circle cx="325.4" cy="412.4" r="1.3" fill="#1a6fd0"/>
<text transform="translate(341.2 411.8) scale(1 1.13)" font-size="6.5" letter-spacing="0.28" fill="#222" stroke="#222" stroke-width="0.22">Prediction vs Observation</text>
<path d="M477 384.3 Q452 386.3 430.5 395.2" fill="none" stroke="#777" stroke-width="0.7" stroke-dasharray="2.2 1.6"/>
<path d="M427.6 395.6 L431.4 393.4 L431.6 397.4 Z" fill="#111"/>
</svg></body></html>
